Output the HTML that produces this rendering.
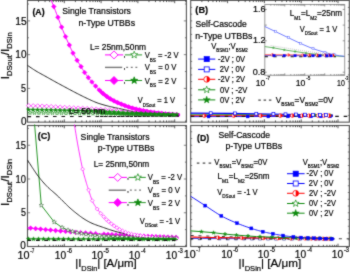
<!DOCTYPE html>
<html><head><meta charset="utf-8"><style>
html,body{margin:0;padding:0;background:#fff;}
body{width:350px;height:273px;overflow:hidden;}
svg{display:block;font-family:'Liberation Sans', Arial, sans-serif;}
text{stroke:#000;stroke-width:0.2px;}
</style></head><body>
<svg xmlns="http://www.w3.org/2000/svg" width="350" height="273" viewBox="0 0 350 273">
<defs><filter id="soft" x="0" y="0" width="350" height="273" filterUnits="userSpaceOnUse" color-interpolation-filters="sRGB"><feConvolveMatrix order="3" kernelMatrix="1 3 1 3 20 3 1 3 1" edgeMode="duplicate" preserveAlpha="true"/></filter></defs>
<g filter="url(#soft)">
<rect width="350" height="273" fill="#fff"/>
<rect x="27.5" y="0.4" width="158.9" height="121.75" fill="none" stroke="#555" stroke-width="1.1"/>
<rect x="190.7" y="0.4" width="158.6" height="121.75" fill="none" stroke="#555" stroke-width="1.1"/>
<rect x="27.5" y="125.5" width="158.9" height="121" fill="none" stroke="#555" stroke-width="1.1"/>
<rect x="190.7" y="125.5" width="158.6" height="121" fill="none" stroke="#555" stroke-width="1.1"/>
<path d="M38.58,122.15 v-1.7 M38.58,0.4 v1.7 M45.06,122.15 v-1.7 M45.06,0.4 v1.7 M49.66,122.15 v-1.7 M49.66,0.4 v1.7 M53.22,122.15 v-1.7 M53.22,0.4 v1.7 M56.14,122.15 v-1.7 M56.14,0.4 v1.7 M58.6,122.15 v-1.7 M58.6,0.4 v1.7 M60.73,122.15 v-1.7 M60.73,0.4 v1.7 M62.62,122.15 v-1.7 M62.62,0.4 v1.7 M64.3,122.15 v-2.8 M64.3,0.4 v2.8 M75.38,122.15 v-1.7 M75.38,0.4 v1.7 M81.86,122.15 v-1.7 M81.86,0.4 v1.7 M86.46,122.15 v-1.7 M86.46,0.4 v1.7 M90.02,122.15 v-1.7 M90.02,0.4 v1.7 M92.94,122.15 v-1.7 M92.94,0.4 v1.7 M95.4,122.15 v-1.7 M95.4,0.4 v1.7 M97.53,122.15 v-1.7 M97.53,0.4 v1.7 M99.42,122.15 v-1.7 M99.42,0.4 v1.7 M101.1,122.15 v-2.8 M101.1,0.4 v2.8 M112.18,122.15 v-1.7 M112.18,0.4 v1.7 M118.66,122.15 v-1.7 M118.66,0.4 v1.7 M123.26,122.15 v-1.7 M123.26,0.4 v1.7 M126.82,122.15 v-1.7 M126.82,0.4 v1.7 M129.74,122.15 v-1.7 M129.74,0.4 v1.7 M132.2,122.15 v-1.7 M132.2,0.4 v1.7 M134.33,122.15 v-1.7 M134.33,0.4 v1.7 M136.22,122.15 v-1.7 M136.22,0.4 v1.7 M137.9,122.15 v-2.8 M137.9,0.4 v2.8 M148.98,122.15 v-1.7 M148.98,0.4 v1.7 M155.46,122.15 v-1.7 M155.46,0.4 v1.7 M160.06,122.15 v-1.7 M160.06,0.4 v1.7 M163.62,122.15 v-1.7 M163.62,0.4 v1.7 M166.54,122.15 v-1.7 M166.54,0.4 v1.7 M169,122.15 v-1.7 M169,0.4 v1.7 M171.13,122.15 v-1.7 M171.13,0.4 v1.7 M173.02,122.15 v-1.7 M173.02,0.4 v1.7 M174.7,122.15 v-2.8 M174.7,0.4 v2.8 M185.78,122.15 v-1.7 M185.78,0.4 v1.7" stroke="#333" stroke-width="0.8" fill="none"/>
<path d="M201.88,122.15 v-1.7 M201.88,0.4 v1.7 M208.36,122.15 v-1.7 M208.36,0.4 v1.7 M212.96,122.15 v-1.7 M212.96,0.4 v1.7 M216.52,122.15 v-1.7 M216.52,0.4 v1.7 M219.44,122.15 v-1.7 M219.44,0.4 v1.7 M221.9,122.15 v-1.7 M221.9,0.4 v1.7 M224.03,122.15 v-1.7 M224.03,0.4 v1.7 M225.92,122.15 v-1.7 M225.92,0.4 v1.7 M227.6,122.15 v-2.8 M227.6,0.4 v2.8 M238.68,122.15 v-1.7 M238.68,0.4 v1.7 M245.16,122.15 v-1.7 M245.16,0.4 v1.7 M249.76,122.15 v-1.7 M249.76,0.4 v1.7 M253.32,122.15 v-1.7 M253.32,0.4 v1.7 M256.24,122.15 v-1.7 M256.24,0.4 v1.7 M258.7,122.15 v-1.7 M258.7,0.4 v1.7 M260.83,122.15 v-1.7 M260.83,0.4 v1.7 M262.72,122.15 v-1.7 M262.72,0.4 v1.7 M264.4,122.15 v-2.8 M264.4,0.4 v2.8 M275.48,122.15 v-1.7 M275.48,0.4 v1.7 M281.96,122.15 v-1.7 M281.96,0.4 v1.7 M286.56,122.15 v-1.7 M286.56,0.4 v1.7 M290.12,122.15 v-1.7 M290.12,0.4 v1.7 M293.04,122.15 v-1.7 M293.04,0.4 v1.7 M295.5,122.15 v-1.7 M295.5,0.4 v1.7 M297.63,122.15 v-1.7 M297.63,0.4 v1.7 M299.52,122.15 v-1.7 M299.52,0.4 v1.7 M301.2,122.15 v-2.8 M301.2,0.4 v2.8 M312.28,122.15 v-1.7 M312.28,0.4 v1.7 M318.76,122.15 v-1.7 M318.76,0.4 v1.7 M323.36,122.15 v-1.7 M323.36,0.4 v1.7 M326.92,122.15 v-1.7 M326.92,0.4 v1.7 M329.84,122.15 v-1.7 M329.84,0.4 v1.7 M332.3,122.15 v-1.7 M332.3,0.4 v1.7 M334.43,122.15 v-1.7 M334.43,0.4 v1.7 M336.32,122.15 v-1.7 M336.32,0.4 v1.7 M338,122.15 v-2.8 M338,0.4 v2.8" stroke="#333" stroke-width="0.8" fill="none"/>
<path d="M38.58,246.5 v-1.7 M38.58,125.5 v1.7 M45.06,246.5 v-1.7 M45.06,125.5 v1.7 M49.66,246.5 v-1.7 M49.66,125.5 v1.7 M53.22,246.5 v-1.7 M53.22,125.5 v1.7 M56.14,246.5 v-1.7 M56.14,125.5 v1.7 M58.6,246.5 v-1.7 M58.6,125.5 v1.7 M60.73,246.5 v-1.7 M60.73,125.5 v1.7 M62.62,246.5 v-1.7 M62.62,125.5 v1.7 M64.3,246.5 v-2.8 M64.3,125.5 v2.8 M75.38,246.5 v-1.7 M75.38,125.5 v1.7 M81.86,246.5 v-1.7 M81.86,125.5 v1.7 M86.46,246.5 v-1.7 M86.46,125.5 v1.7 M90.02,246.5 v-1.7 M90.02,125.5 v1.7 M92.94,246.5 v-1.7 M92.94,125.5 v1.7 M95.4,246.5 v-1.7 M95.4,125.5 v1.7 M97.53,246.5 v-1.7 M97.53,125.5 v1.7 M99.42,246.5 v-1.7 M99.42,125.5 v1.7 M101.1,246.5 v-2.8 M101.1,125.5 v2.8 M112.18,246.5 v-1.7 M112.18,125.5 v1.7 M118.66,246.5 v-1.7 M118.66,125.5 v1.7 M123.26,246.5 v-1.7 M123.26,125.5 v1.7 M126.82,246.5 v-1.7 M126.82,125.5 v1.7 M129.74,246.5 v-1.7 M129.74,125.5 v1.7 M132.2,246.5 v-1.7 M132.2,125.5 v1.7 M134.33,246.5 v-1.7 M134.33,125.5 v1.7 M136.22,246.5 v-1.7 M136.22,125.5 v1.7 M137.9,246.5 v-2.8 M137.9,125.5 v2.8 M148.98,246.5 v-1.7 M148.98,125.5 v1.7 M155.46,246.5 v-1.7 M155.46,125.5 v1.7 M160.06,246.5 v-1.7 M160.06,125.5 v1.7 M163.62,246.5 v-1.7 M163.62,125.5 v1.7 M166.54,246.5 v-1.7 M166.54,125.5 v1.7 M169,246.5 v-1.7 M169,125.5 v1.7 M171.13,246.5 v-1.7 M171.13,125.5 v1.7 M173.02,246.5 v-1.7 M173.02,125.5 v1.7 M174.7,246.5 v-2.8 M174.7,125.5 v2.8 M185.78,246.5 v-1.7 M185.78,125.5 v1.7" stroke="#333" stroke-width="0.8" fill="none"/>
<path d="M201.88,246.5 v-1.7 M201.88,125.5 v1.7 M208.36,246.5 v-1.7 M208.36,125.5 v1.7 M212.96,246.5 v-1.7 M212.96,125.5 v1.7 M216.52,246.5 v-1.7 M216.52,125.5 v1.7 M219.44,246.5 v-1.7 M219.44,125.5 v1.7 M221.9,246.5 v-1.7 M221.9,125.5 v1.7 M224.03,246.5 v-1.7 M224.03,125.5 v1.7 M225.92,246.5 v-1.7 M225.92,125.5 v1.7 M227.6,246.5 v-2.8 M227.6,125.5 v2.8 M238.68,246.5 v-1.7 M238.68,125.5 v1.7 M245.16,246.5 v-1.7 M245.16,125.5 v1.7 M249.76,246.5 v-1.7 M249.76,125.5 v1.7 M253.32,246.5 v-1.7 M253.32,125.5 v1.7 M256.24,246.5 v-1.7 M256.24,125.5 v1.7 M258.7,246.5 v-1.7 M258.7,125.5 v1.7 M260.83,246.5 v-1.7 M260.83,125.5 v1.7 M262.72,246.5 v-1.7 M262.72,125.5 v1.7 M264.4,246.5 v-2.8 M264.4,125.5 v2.8 M275.48,246.5 v-1.7 M275.48,125.5 v1.7 M281.96,246.5 v-1.7 M281.96,125.5 v1.7 M286.56,246.5 v-1.7 M286.56,125.5 v1.7 M290.12,246.5 v-1.7 M290.12,125.5 v1.7 M293.04,246.5 v-1.7 M293.04,125.5 v1.7 M295.5,246.5 v-1.7 M295.5,125.5 v1.7 M297.63,246.5 v-1.7 M297.63,125.5 v1.7 M299.52,246.5 v-1.7 M299.52,125.5 v1.7 M301.2,246.5 v-2.8 M301.2,125.5 v2.8 M312.28,246.5 v-1.7 M312.28,125.5 v1.7 M318.76,246.5 v-1.7 M318.76,125.5 v1.7 M323.36,246.5 v-1.7 M323.36,125.5 v1.7 M326.92,246.5 v-1.7 M326.92,125.5 v1.7 M329.84,246.5 v-1.7 M329.84,125.5 v1.7 M332.3,246.5 v-1.7 M332.3,125.5 v1.7 M334.43,246.5 v-1.7 M334.43,125.5 v1.7 M336.32,246.5 v-1.7 M336.32,125.5 v1.7 M338,246.5 v-2.8 M338,125.5 v2.8" stroke="#333" stroke-width="0.8" fill="none"/>
<path d="M27.5,88.4 h2.6 M186.4,88.4 h-2.6 M27.5,54.65 h2.6 M186.4,54.65 h-2.6 M27.5,20.9 h2.6 M186.4,20.9 h-2.6 M27.5,105.28 h1.5 M186.4,105.28 h-1.5 M27.5,71.53 h1.5 M186.4,71.53 h-1.5 M27.5,37.78 h1.5 M186.4,37.78 h-1.5 M27.5,4.03 h1.5 M186.4,4.03 h-1.5" stroke="#555" stroke-width="0.7" fill="none"/>
<path d="M190.7,115.4 h1.5 M349.3,115.4 h-1.5 M190.7,108.65 h1.5 M349.3,108.65 h-1.5 M190.7,101.9 h1.5 M349.3,101.9 h-1.5 M190.7,95.15 h1.5 M349.3,95.15 h-1.5 M190.7,88.4 h1.5 M349.3,88.4 h-1.5 M190.7,81.65 h1.5 M349.3,81.65 h-1.5 M190.7,74.9 h1.5 M349.3,74.9 h-1.5 M190.7,68.15 h1.5 M349.3,68.15 h-1.5 M190.7,61.4 h1.5 M349.3,61.4 h-1.5 M190.7,54.65 h1.5 M349.3,54.65 h-1.5 M190.7,47.9 h1.5 M349.3,47.9 h-1.5 M190.7,41.15 h1.5 M349.3,41.15 h-1.5 M190.7,34.4 h1.5 M349.3,34.4 h-1.5 M190.7,27.65 h1.5 M349.3,27.65 h-1.5 M190.7,20.9 h1.5 M349.3,20.9 h-1.5 M190.7,14.15 h1.5 M349.3,14.15 h-1.5 M190.7,7.4 h1.5 M349.3,7.4 h-1.5" stroke="#555" stroke-width="0.7" fill="none"/>
<path d="M27.5,212.75 h2.6 M186.4,212.75 h-2.6 M27.5,179 h2.6 M186.4,179 h-2.6 M27.5,145.25 h2.6 M186.4,145.25 h-2.6 M27.5,229.62 h1.5 M186.4,229.62 h-1.5 M27.5,195.88 h1.5 M186.4,195.88 h-1.5 M27.5,162.12 h1.5 M186.4,162.12 h-1.5 M27.5,128.38 h1.5 M186.4,128.38 h-1.5" stroke="#555" stroke-width="0.7" fill="none"/>
<path d="M190.7,239.75 h1.5 M349.3,239.75 h-1.5 M190.7,233 h1.5 M349.3,233 h-1.5 M190.7,226.25 h1.5 M349.3,226.25 h-1.5 M190.7,219.5 h1.5 M349.3,219.5 h-1.5 M190.7,212.75 h1.5 M349.3,212.75 h-1.5 M190.7,206 h1.5 M349.3,206 h-1.5 M190.7,199.25 h1.5 M349.3,199.25 h-1.5 M190.7,192.5 h1.5 M349.3,192.5 h-1.5 M190.7,185.75 h1.5 M349.3,185.75 h-1.5 M190.7,179 h1.5 M349.3,179 h-1.5 M190.7,172.25 h1.5 M349.3,172.25 h-1.5 M190.7,165.5 h1.5 M349.3,165.5 h-1.5 M190.7,158.75 h1.5 M349.3,158.75 h-1.5 M190.7,152 h1.5 M349.3,152 h-1.5 M190.7,145.25 h1.5 M349.3,145.25 h-1.5 M190.7,138.5 h1.5 M349.3,138.5 h-1.5 M190.7,131.75 h1.5 M349.3,131.75 h-1.5" stroke="#555" stroke-width="0.7" fill="none"/>
<path d="M50.6,-1 L50.84,-0.43 L51.15,0.29 L51.53,1.16 L51.94,2.13 L52.39,3.19 L52.86,4.3 L53.34,5.45 L53.8,6.6 L54.27,7.8 L54.77,9.08 L55.29,10.43 L55.82,11.81 L56.35,13.22 L56.88,14.62 L57.4,15.98 L57.9,17.3 L58.38,18.57 L58.85,19.82 L59.31,21.05 L59.76,22.27 L60.22,23.49 L60.67,24.69 L61.13,25.9 L61.6,27.1 L62.08,28.31 L62.56,29.52 L63.05,30.73 L63.54,31.93 L64.04,33.12 L64.53,34.3 L65.02,35.46 L65.5,36.6 L65.98,37.71 L66.46,38.81 L66.94,39.88 L67.41,40.94 L67.89,41.99 L68.36,43.03 L68.83,44.07 L69.3,45.1 L69.76,46.13 L70.22,47.15 L70.68,48.17 L71.13,49.18 L71.59,50.18 L72.05,51.17 L72.52,52.14 L73,53.1 L73.49,54.04 L74,54.98 L74.52,55.9 L75.04,56.81 L75.56,57.7 L76.08,58.58 L76.59,59.45 L77.1,60.3 L77.6,61.13 L78.1,61.95 L78.59,62.75 L79.08,63.53 L79.57,64.31 L80.05,65.07 L80.53,65.84 L81,66.6 L81.46,67.36 L81.92,68.12 L82.37,68.88 L82.81,69.62 L83.26,70.36 L83.7,71.09 L84.15,71.8 L84.6,72.5 L85.06,73.18 L85.52,73.85 L85.98,74.5 L86.45,75.14 L86.92,75.77 L87.38,76.39 L87.84,77 L88.3,77.6 L88.75,78.19 L89.2,78.76 L89.65,79.31 L90.1,79.86 L90.55,80.4 L91,80.94 L91.45,81.47 L91.9,82 L92.36,82.53 L92.82,83.05 L93.28,83.57 L93.75,84.08 L94.22,84.59 L94.68,85.1 L95.14,85.6 L95.6,86.1 L96.05,86.6 L96.5,87.1 L96.95,87.6 L97.4,88.09 L97.85,88.58 L98.3,89.06 L98.75,89.54 L99.2,90 L99.66,90.45 L100.12,90.9 L100.58,91.33 L101.04,91.76 L101.51,92.18 L101.97,92.6 L102.44,93 L102.9,93.4 L103.36,93.79 L103.83,94.17 L104.29,94.54 L104.76,94.91 L105.22,95.26 L105.68,95.61 L106.14,95.96 L106.6,96.3 L107.05,96.63 L107.48,96.95 L107.9,97.26 L108.33,97.57 L108.77,97.87 L109.22,98.18 L109.69,98.49 L110.2,98.8 L110.74,99.12 L111.31,99.45 L111.9,99.79 L112.51,100.12 L113.13,100.45 L113.76,100.78 L114.38,101.09 L115,101.4 L115.58,101.68 L116.12,101.94 L116.64,102.18 L117.17,102.43 L117.75,102.68 L118.39,102.95 L119.13,103.25 L120,103.6 L121.01,104.01 L122.15,104.47 L123.38,104.96 L124.69,105.47 L126.03,105.99 L127.38,106.5 L128.72,106.97 L130,107.4 L131.25,107.79 L132.5,108.15 L133.75,108.49 L135,108.82 L136.25,109.13 L137.5,109.43 L138.75,109.72 L140,110 L141.25,110.28 L142.5,110.54 L143.75,110.79 L145,111.03 L146.25,111.26 L147.5,111.48 L148.75,111.7 L150,111.9 L151.25,112.09 L152.5,112.27 L153.75,112.44 L155,112.61 L156.25,112.76 L157.5,112.91 L158.75,113.06 L160,113.2 L161.26,113.34 L162.54,113.48 L163.82,113.61 L165.09,113.74 L166.36,113.87 L167.61,113.99 L168.82,114.1 L170,114.2 L171.19,114.3 L172.43,114.39 L173.67,114.48 L174.88,114.56 L176,114.64 L177.01,114.7 L177.85,114.76 L178.5,114.8" fill="none" stroke="#ff00ff" stroke-width="1.0"/>
<path d="M100.12,90.9 L100.58,91.33 L101.04,91.76 L101.51,92.18 L101.97,92.6 L102.44,93 L102.9,93.4 L103.36,93.79 L103.83,94.17 L104.29,94.54 L104.76,94.91 L105.22,95.26 L105.68,95.61 L106.14,95.96 L106.6,96.3 L107.05,96.63 L107.48,96.95 L107.9,97.26 L108.33,97.57 L108.77,97.87 L109.22,98.18 L109.69,98.49 L110.2,98.8 L110.74,99.12 L111.31,99.45 L111.9,99.79 L112.51,100.12 L113.13,100.45 L113.76,100.78 L114.38,101.09 L115,101.4 L115.58,101.68 L116.12,101.94 L116.64,102.18 L117.17,102.43 L117.75,102.68 L118.39,102.95 L119.13,103.25 L120,103.6 L121.01,104.01 L122.15,104.47 L123.38,104.96 L124.69,105.47 L126.03,105.99 L127.38,106.5 L128.72,106.97 L130,107.4 L131.25,107.79 L132.5,108.15 L133.75,108.49 L135,108.82 L136.25,109.13 L137.5,109.43 L138.75,109.72 L140,110 L141.25,110.28 L142.5,110.54 L143.75,110.79 L145,111.03 L146.25,111.26 L147.5,111.48 L148.75,111.7 L150,111.9 L151.25,112.09 L152.5,112.27 L153.75,112.44 L155,112.61 L156.25,112.76 L157.5,112.91 L158.75,113.06 L160,113.2 L161.26,113.34 L162.54,113.48 L163.82,113.61 L165.09,113.74 L166.36,113.87 L167.61,113.99 L168.82,114.1 L170,114.2 L171.19,114.3 L172.43,114.39 L173.67,114.48 L174.88,114.56 L176,114.64 L177.01,114.7 L177.85,114.76 L178.5,114.8" fill="none" stroke="#ff00ff" stroke-width="3.4" stroke-linecap="round"/>
<path d="M53.8,4.25 L56.15,6.6 L53.8,8.95 L51.45,6.6 Z" fill="#ff00ff" stroke="#ff00ff" stroke-width="0.5"/>
<path d="M57.9,14.95 L60.25,17.3 L57.9,19.65 L55.55,17.3 Z" fill="#ff00ff" stroke="#ff00ff" stroke-width="0.5"/>
<path d="M61.6,24.75 L63.95,27.1 L61.6,29.45 L59.25,27.1 Z" fill="#ff00ff" stroke="#ff00ff" stroke-width="0.5"/>
<path d="M65.5,34.25 L67.85,36.6 L65.5,38.95 L63.15,36.6 Z" fill="#ff00ff" stroke="#ff00ff" stroke-width="0.5"/>
<path d="M69.3,42.75 L71.65,45.1 L69.3,47.45 L66.95,45.1 Z" fill="#ff00ff" stroke="#ff00ff" stroke-width="0.5"/>
<path d="M73,50.75 L75.35,53.1 L73,55.45 L70.65,53.1 Z" fill="#ff00ff" stroke="#ff00ff" stroke-width="0.5"/>
<path d="M77.1,57.95 L79.45,60.3 L77.1,62.65 L74.75,60.3 Z" fill="#ff00ff" stroke="#ff00ff" stroke-width="0.5"/>
<path d="M81,64.25 L83.35,66.6 L81,68.95 L78.65,66.6 Z" fill="#ff00ff" stroke="#ff00ff" stroke-width="0.5"/>
<path d="M84.6,70.15 L86.95,72.5 L84.6,74.85 L82.25,72.5 Z" fill="#ff00ff" stroke="#ff00ff" stroke-width="0.5"/>
<path d="M88.3,75.25 L90.65,77.6 L88.3,79.95 L85.95,77.6 Z" fill="#ff00ff" stroke="#ff00ff" stroke-width="0.5"/>
<path d="M91.9,79.65 L94.25,82 L91.9,84.35 L89.55,82 Z" fill="#ff00ff" stroke="#ff00ff" stroke-width="0.5"/>
<path d="M95.6,83.75 L97.95,86.1 L95.6,88.45 L93.25,86.1 Z" fill="#ff00ff" stroke="#ff00ff" stroke-width="0.5"/>
<path d="M99.2,87.65 L101.55,90 L99.2,92.35 L96.85,90 Z" fill="#ff00ff" stroke="#ff00ff" stroke-width="0.5"/>
<path d="M102.9,91.05 L105.25,93.4 L102.9,95.75 L100.55,93.4 Z" fill="#ff00ff" stroke="#ff00ff" stroke-width="0.5"/>
<path d="M106.6,93.95 L108.95,96.3 L106.6,98.65 L104.25,96.3 Z" fill="#ff00ff" stroke="#ff00ff" stroke-width="0.5"/>
<path d="M110.2,96.45 L112.55,98.8 L110.2,101.15 L107.85,98.8 Z" fill="#ff00ff" stroke="#ff00ff" stroke-width="0.5"/>
<path d="M113.9,98.5 L116.25,100.85 L113.9,103.2 L111.55,100.85 Z" fill="#ff00ff" stroke="#ff00ff" stroke-width="0.5"/>
<path d="M117.58,100.25 L119.93,102.6 L117.58,104.95 L115.23,102.6 Z" fill="#ff00ff" stroke="#ff00ff" stroke-width="0.5"/>
<path d="M121.26,101.76 L123.61,104.11 L121.26,106.46 L118.91,104.11 Z" fill="#ff00ff" stroke="#ff00ff" stroke-width="0.5"/>
<path d="M124.94,103.22 L127.29,105.57 L124.94,107.92 L122.59,105.57 Z" fill="#ff00ff" stroke="#ff00ff" stroke-width="0.5"/>
<path d="M128.62,104.59 L130.97,106.94 L128.62,109.29 L126.27,106.94 Z" fill="#ff00ff" stroke="#ff00ff" stroke-width="0.5"/>
<path d="M132.3,105.74 L134.65,108.09 L132.3,110.44 L129.95,108.09 Z" fill="#ff00ff" stroke="#ff00ff" stroke-width="0.5"/>
<path d="M135.98,106.71 L138.33,109.06 L135.98,111.41 L133.63,109.06 Z" fill="#ff00ff" stroke="#ff00ff" stroke-width="0.5"/>
<path d="M139.66,107.57 L142.01,109.92 L139.66,112.27 L137.31,109.92 Z" fill="#ff00ff" stroke="#ff00ff" stroke-width="0.5"/>
<path d="M143.34,108.36 L145.69,110.71 L143.34,113.06 L140.99,110.71 Z" fill="#ff00ff" stroke="#ff00ff" stroke-width="0.5"/>
<path d="M147.02,109.05 L149.37,111.4 L147.02,113.75 L144.67,111.4 Z" fill="#ff00ff" stroke="#ff00ff" stroke-width="0.5"/>
<path d="M150.7,109.66 L153.05,112.01 L150.7,114.36 L148.35,112.01 Z" fill="#ff00ff" stroke="#ff00ff" stroke-width="0.5"/>
<path d="M154.38,110.18 L156.73,112.53 L154.38,114.88 L152.03,112.53 Z" fill="#ff00ff" stroke="#ff00ff" stroke-width="0.5"/>
<path d="M158.06,110.63 L160.41,112.98 L158.06,115.33 L155.71,112.98 Z" fill="#ff00ff" stroke="#ff00ff" stroke-width="0.5"/>
<path d="M161.74,111.04 L164.09,113.39 L161.74,115.74 L159.39,113.39 Z" fill="#ff00ff" stroke="#ff00ff" stroke-width="0.5"/>
<path d="M165.42,111.43 L167.77,113.78 L165.42,116.13 L163.07,113.78 Z" fill="#ff00ff" stroke="#ff00ff" stroke-width="0.5"/>
<path d="M169.1,111.77 L171.45,114.12 L169.1,116.47 L166.75,114.12 Z" fill="#ff00ff" stroke="#ff00ff" stroke-width="0.5"/>
<path d="M172.78,112.07 L175.13,114.42 L172.78,116.77 L170.43,114.42 Z" fill="#ff00ff" stroke="#ff00ff" stroke-width="0.5"/>
<path d="M176.46,112.32 L178.81,114.67 L176.46,117.02 L174.11,114.67 Z" fill="#ff00ff" stroke="#ff00ff" stroke-width="0.5"/>
<path d="M27.5,65.4 L28.15,65.83 L28.99,66.41 L30,67.09 L31.12,67.85 L32.33,68.65 L33.57,69.47 L34.81,70.26 L36,71 L37.18,71.7 L38.39,72.4 L39.64,73.1 L40.91,73.8 L42.18,74.5 L43.46,75.2 L44.74,75.9 L46,76.6 L47.25,77.3 L48.5,78 L49.75,78.71 L51,79.41 L52.25,80.11 L53.5,80.81 L54.75,81.51 L56,82.2 L57.25,82.89 L58.5,83.57 L59.75,84.24 L61,84.92 L62.25,85.59 L63.5,86.26 L64.75,86.93 L66,87.6 L67.25,88.27 L68.5,88.94 L69.75,89.61 L71,90.27 L72.25,90.94 L73.5,91.6 L74.75,92.25 L76,92.9 L77.25,93.54 L78.5,94.18 L79.75,94.82 L81,95.45 L82.25,96.07 L83.5,96.69 L84.75,97.3 L86,97.9 L87.26,98.5 L88.55,99.1 L89.84,99.71 L91.12,100.3 L92.4,100.87 L93.64,101.42 L94.85,101.93 L96,102.4 L97.09,102.82 L98.12,103.19 L99.11,103.53 L100.07,103.84 L101.02,104.14 L101.98,104.42 L102.97,104.71 L104,105 L105.05,105.29 L106.1,105.57 L107.16,105.85 L108.24,106.11 L109.34,106.38 L110.48,106.65 L111.66,106.92 L112.9,107.2 L114.21,107.49 L115.59,107.79 L117.02,108.09 L118.49,108.39 L119.97,108.69 L121.44,109 L122.89,109.3 L124.3,109.6 L125.64,109.9 L126.92,110.21 L128.17,110.52 L129.42,110.82 L130.7,111.13 L132.04,111.43 L133.46,111.72 L135,112 L136.58,112.27 L138.14,112.54 L139.74,112.81 L141.42,113.06 L143.23,113.31 L145.24,113.55 L147.47,113.78 L150,114 L153.07,114.21 L156.74,114.42 L160.78,114.63 L164.94,114.83 L168.98,115 L172.66,115.16 L175.75,115.3 L178,115.4" fill="none" stroke="#111" stroke-width="0.9"/>
<path d="M27.5,105.6 L28.83,105.64 L30.59,105.69 L32.67,105.75 L35,105.83 L37.49,105.9 L40.04,105.99 L42.57,106.09 L45,106.2 L47.38,106.32 L49.82,106.46 L52.32,106.61 L54.84,106.78 L57.39,106.94 L59.94,107.1 L62.48,107.26 L65,107.4 L67.5,107.53 L70,107.66 L72.5,107.78 L75,107.9 L77.5,108.02 L80,108.14 L82.5,108.27 L85,108.4 L87.47,108.54 L89.88,108.68 L92.28,108.82 L94.69,108.96 L97.13,109.11 L99.65,109.27 L102.26,109.43 L105,109.6 L107.92,109.78 L111.02,109.98 L114.23,110.18 L117.5,110.39 L120.77,110.6 L123.98,110.8 L127.08,111.01 L130,111.2 L132.68,111.38 L135.16,111.56 L137.51,111.74 L139.81,111.91 L142.13,112.08 L144.55,112.25 L147.15,112.43 L150,112.6 L153.31,112.78 L157.09,112.98 L161.14,113.19 L165.25,113.39 L169.2,113.58 L172.78,113.75 L175.79,113.89 L178,114" fill="none" stroke="#ff00ff" stroke-width="0.7"/>
<path d="M28.7,103.49 L30.85,105.64 L28.7,107.79 L26.55,105.64 Z" fill="#fff" stroke="#ff00ff" stroke-width="0.6"/>
<path d="M33.2,103.62 L35.35,105.77 L33.2,107.92 L31.05,105.77 Z" fill="#fff" stroke="#ff00ff" stroke-width="0.6"/>
<path d="M37.7,103.76 L39.85,105.91 L37.7,108.06 L35.55,105.91 Z" fill="#fff" stroke="#ff00ff" stroke-width="0.6"/>
<path d="M42.2,103.93 L44.35,106.08 L42.2,108.23 L40.05,106.08 Z" fill="#fff" stroke="#ff00ff" stroke-width="0.6"/>
<path d="M46.7,104.14 L48.85,106.29 L46.7,108.44 L44.55,106.29 Z" fill="#fff" stroke="#ff00ff" stroke-width="0.6"/>
<path d="M51.2,104.4 L53.35,106.55 L51.2,108.7 L49.05,106.55 Z" fill="#fff" stroke="#ff00ff" stroke-width="0.6"/>
<path d="M55.7,104.68 L57.85,106.83 L55.7,108.98 L53.55,106.83 Z" fill="#fff" stroke="#ff00ff" stroke-width="0.6"/>
<path d="M60.2,104.97 L62.35,107.12 L60.2,109.27 L58.05,107.12 Z" fill="#fff" stroke="#ff00ff" stroke-width="0.6"/>
<path d="M64.7,105.23 L66.85,107.38 L64.7,109.53 L62.55,107.38 Z" fill="#fff" stroke="#ff00ff" stroke-width="0.6"/>
<path d="M69.2,105.47 L71.35,107.62 L69.2,109.77 L67.05,107.62 Z" fill="#fff" stroke="#ff00ff" stroke-width="0.6"/>
<path d="M73.7,105.69 L75.85,107.84 L73.7,109.99 L71.55,107.84 Z" fill="#fff" stroke="#ff00ff" stroke-width="0.6"/>
<path d="M78.2,105.9 L80.35,108.05 L78.2,110.2 L76.05,108.05 Z" fill="#fff" stroke="#ff00ff" stroke-width="0.6"/>
<path d="M82.7,106.13 L84.85,108.28 L82.7,110.43 L80.55,108.28 Z" fill="#fff" stroke="#ff00ff" stroke-width="0.6"/>
<path d="M87.2,106.37 L89.35,108.52 L87.2,110.67 L85.05,108.52 Z" fill="#fff" stroke="#ff00ff" stroke-width="0.6"/>
<path d="M91.7,106.63 L93.85,108.78 L91.7,110.93 L89.55,108.78 Z" fill="#fff" stroke="#ff00ff" stroke-width="0.6"/>
<path d="M96.2,106.9 L98.35,109.05 L96.2,111.2 L94.05,109.05 Z" fill="#fff" stroke="#ff00ff" stroke-width="0.6"/>
<path d="M100.7,107.18 L102.85,109.33 L100.7,111.48 L98.55,109.33 Z" fill="#fff" stroke="#ff00ff" stroke-width="0.6"/>
<path d="M105.2,107.46 L107.35,109.61 L105.2,111.76 L103.05,109.61 Z" fill="#fff" stroke="#ff00ff" stroke-width="0.6"/>
<path d="M109.7,107.74 L111.85,109.89 L109.7,112.04 L107.55,109.89 Z" fill="#fff" stroke="#ff00ff" stroke-width="0.6"/>
<path d="M114.2,108.03 L116.35,110.18 L114.2,112.33 L112.05,110.18 Z" fill="#fff" stroke="#ff00ff" stroke-width="0.6"/>
<path d="M118.7,108.31 L120.85,110.46 L118.7,112.61 L116.55,110.46 Z" fill="#fff" stroke="#ff00ff" stroke-width="0.6"/>
<path d="M27.5,116.6 L35.77,116.59 L47.17,116.57 L60.78,116.54 L75.69,116.52 L90.98,116.49 L105.73,116.46 L119.05,116.43 L130,116.4 L139.02,116.37 L147.16,116.33 L154.45,116.28 L160.91,116.24 L166.56,116.19 L171.45,116.16 L175.59,116.12 L179,116.1" fill="none" stroke="#111" stroke-width="1.1" stroke-dasharray="3.6,4.9"/>
<path d="M27.5,112.9 L33.25,112.96 L41.05,113.04 L50.37,113.14 L60.62,113.24 L71.27,113.36 L81.76,113.47 L91.52,113.59 L100,113.7 L107.48,113.81 L114.62,113.93 L121.41,114.05 L127.84,114.18 L133.92,114.29 L139.64,114.41 L145,114.51 L150,114.6 L154.66,114.68 L159,114.74 L163,114.8 L166.62,114.86 L169.86,114.9 L172.69,114.94 L175.07,114.97 L177,115" fill="none" stroke="#108a10" stroke-width="0.7" stroke-dasharray="0.8,0.8"/>
<polygon points="30,110.93 30.49,112.25 31.9,112.31 30.8,113.19 31.18,114.54 30,113.77 28.82,114.54 29.2,113.19 28.1,112.31 29.51,112.25" fill="#fff" stroke="#108a10" stroke-width="0.55"/>
<polygon points="34.5,110.97 34.99,112.29 36.4,112.36 35.3,113.23 35.68,114.59 34.5,113.81 33.32,114.59 33.7,113.23 32.6,112.36 34.01,112.29" fill="#fff" stroke="#108a10" stroke-width="0.55"/>
<polygon points="39,111.02 39.49,112.34 40.9,112.4 39.8,113.28 40.18,114.64 39,113.86 37.82,114.64 38.2,113.28 37.1,112.4 38.51,112.34" fill="#fff" stroke="#108a10" stroke-width="0.55"/>
<polygon points="43.5,111.07 43.99,112.39 45.4,112.45 44.3,113.33 44.68,114.68 43.5,113.91 42.32,114.68 42.7,113.33 41.6,112.45 43.01,112.39" fill="#fff" stroke="#108a10" stroke-width="0.55"/>
<polygon points="48,111.11 48.49,112.43 49.9,112.49 48.8,113.37 49.18,114.73 48,113.95 46.82,114.73 47.2,113.37 46.1,112.49 47.51,112.43" fill="#fff" stroke="#108a10" stroke-width="0.55"/>
<polygon points="52.5,111.16 52.99,112.48 54.4,112.54 53.3,113.42 53.68,114.78 52.5,114 51.32,114.78 51.7,113.42 50.6,112.54 52.01,112.48" fill="#fff" stroke="#108a10" stroke-width="0.55"/>
<polygon points="57,111.21 57.49,112.53 58.9,112.59 57.8,113.47 58.18,114.82 57,114.05 55.82,114.82 56.2,113.47 55.1,112.59 56.51,112.53" fill="#fff" stroke="#108a10" stroke-width="0.55"/>
<polygon points="61.5,111.25 61.99,112.57 63.4,112.64 62.3,113.51 62.68,114.87 61.5,114.09 60.32,114.87 60.7,113.51 59.6,112.64 61.01,112.57" fill="#fff" stroke="#108a10" stroke-width="0.55"/>
<polygon points="66,111.3 66.49,112.62 67.9,112.68 66.8,113.56 67.18,114.92 66,114.14 64.82,114.92 65.2,113.56 64.1,112.68 65.51,112.62" fill="#fff" stroke="#108a10" stroke-width="0.55"/>
<polygon points="70.5,111.35 70.99,112.67 72.4,112.73 71.3,113.61 71.68,114.97 70.5,114.19 69.32,114.97 69.7,113.61 68.6,112.73 70.01,112.67" fill="#fff" stroke="#108a10" stroke-width="0.55"/>
<polygon points="75,111.4 75.49,112.72 76.9,112.78 75.8,113.66 76.18,115.02 75,114.24 73.82,115.02 74.2,113.66 73.1,112.78 74.51,112.72" fill="#fff" stroke="#108a10" stroke-width="0.55"/>
<polygon points="79.5,111.45 79.99,112.77 81.4,112.83 80.3,113.71 80.68,115.07 79.5,114.29 78.32,115.07 78.7,113.71 77.6,112.83 79.01,112.77" fill="#fff" stroke="#108a10" stroke-width="0.55"/>
<polygon points="84,111.5 84.49,112.82 85.9,112.88 84.8,113.76 85.18,115.12 84,114.34 82.82,115.12 83.2,113.76 82.1,112.88 83.51,112.82" fill="#fff" stroke="#108a10" stroke-width="0.55"/>
<polygon points="88.5,111.55 88.99,112.87 90.4,112.94 89.3,113.81 89.68,115.17 88.5,114.39 87.32,115.17 87.7,113.81 86.6,112.94 88.01,112.87" fill="#fff" stroke="#108a10" stroke-width="0.55"/>
<polygon points="93,111.61 93.49,112.93 94.9,112.99 93.8,113.87 94.18,115.23 93,114.45 91.82,115.23 92.2,113.87 91.1,112.99 92.51,112.93" fill="#fff" stroke="#108a10" stroke-width="0.55"/>
<polygon points="97.5,111.67 97.99,112.99 99.4,113.05 98.3,113.93 98.68,115.29 97.5,114.51 96.32,115.29 96.7,113.93 95.6,113.05 97.01,112.99" fill="#fff" stroke="#108a10" stroke-width="0.55"/>
<polygon points="102,111.73 102.49,113.05 103.9,113.11 102.8,113.99 103.18,115.35 102,114.57 100.82,115.35 101.2,113.99 100.1,113.11 101.51,113.05" fill="#fff" stroke="#108a10" stroke-width="0.55"/>
<polygon points="106.5,111.8 106.99,113.12 108.4,113.18 107.3,114.06 107.68,115.41 106.5,114.64 105.32,115.41 105.7,114.06 104.6,113.18 106.01,113.12" fill="#fff" stroke="#108a10" stroke-width="0.55"/>
<polygon points="111,111.87 111.49,113.19 112.9,113.25 111.8,114.13 112.18,115.49 111,114.71 109.82,115.49 110.2,114.13 109.1,113.25 110.51,113.19" fill="#fff" stroke="#108a10" stroke-width="0.55"/>
<polygon points="115.5,111.95 115.99,113.27 117.4,113.33 116.3,114.21 116.68,115.56 115.5,114.79 114.32,115.56 114.7,114.21 113.6,113.33 115.01,113.27" fill="#fff" stroke="#108a10" stroke-width="0.55"/>
<polygon points="120,112.03 120.49,113.35 121.9,113.41 120.8,114.29 121.18,115.64 120,114.87 118.82,115.64 119.2,114.29 118.1,113.41 119.51,113.35" fill="#fff" stroke="#108a10" stroke-width="0.55"/>
<polygon points="124.5,112.11 124.99,113.43 126.4,113.49 125.3,114.37 125.68,115.73 124.5,114.95 123.32,115.73 123.7,114.37 122.6,113.49 124.01,113.43" fill="#fff" stroke="#108a10" stroke-width="0.55"/>
<polygon points="129,112.2 129.49,113.52 130.9,113.58 129.8,114.46 130.18,115.82 129,115.04 127.82,115.82 128.2,114.46 127.1,113.58 128.51,113.52" fill="#fff" stroke="#108a10" stroke-width="0.55"/>
<polygon points="133.5,112.29 133.99,113.61 135.4,113.67 134.3,114.55 134.68,115.9 133.5,115.13 132.32,115.9 132.7,114.55 131.6,113.67 133.01,113.61" fill="#fff" stroke="#108a10" stroke-width="0.55"/>
<polygon points="138,112.38 138.49,113.7 139.9,113.76 138.8,114.63 139.18,115.99 138,115.22 136.82,115.99 137.2,114.63 136.1,113.76 137.51,113.7" fill="#fff" stroke="#108a10" stroke-width="0.55"/>
<polygon points="142.5,112.46 142.99,113.78 144.4,113.84 143.3,114.72 143.68,116.08 142.5,115.3 141.32,116.08 141.7,114.72 140.6,113.84 142.01,113.78" fill="#fff" stroke="#108a10" stroke-width="0.55"/>
<polygon points="147,112.55 147.49,113.87 148.9,113.93 147.8,114.81 148.18,116.16 147,115.39 145.82,116.16 146.2,114.81 145.1,113.93 146.51,113.87" fill="#fff" stroke="#108a10" stroke-width="0.55"/>
<polygon points="151.5,112.62 151.99,113.95 153.4,114.01 152.3,114.88 152.68,116.24 151.5,115.46 150.32,116.24 150.7,114.88 149.6,114.01 151.01,113.95" fill="#fff" stroke="#108a10" stroke-width="0.55"/>
<polygon points="156,112.7 156.49,114.02 157.9,114.08 156.8,114.96 157.18,116.32 156,115.54 154.82,116.32 155.2,114.96 154.1,114.08 155.51,114.02" fill="#fff" stroke="#108a10" stroke-width="0.55"/>
<polygon points="160.5,112.77 160.99,114.09 162.4,114.15 161.3,115.03 161.68,116.38 160.5,115.61 159.32,116.38 159.7,115.03 158.6,114.15 160.01,114.09" fill="#fff" stroke="#108a10" stroke-width="0.55"/>
<polygon points="165,112.83 165.49,114.15 166.9,114.21 165.8,115.09 166.18,116.45 165,115.67 163.82,116.45 164.2,115.09 163.1,114.21 164.51,114.15" fill="#fff" stroke="#108a10" stroke-width="0.55"/>
<polygon points="169.5,112.9 169.99,114.22 171.4,114.28 170.3,115.16 170.68,116.51 169.5,115.74 168.32,116.51 168.7,115.16 167.6,114.28 169.01,114.22" fill="#fff" stroke="#108a10" stroke-width="0.55"/>
<polygon points="174,112.96 174.49,114.28 175.9,114.34 174.8,115.22 175.18,116.58 174,115.8 172.82,116.58 173.2,115.22 172.1,114.34 173.51,114.28" fill="#fff" stroke="#108a10" stroke-width="0.55"/>
<path d="M27.5,109.6 L30.41,109.65 L34.3,109.72 L38.93,109.8 L44.06,109.89 L49.47,109.99 L54.92,110.09 L60.18,110.2 L65,110.3 L69.53,110.4 L74.04,110.49 L78.53,110.59 L82.97,110.69 L87.35,110.8 L91.66,110.91 L95.88,111.05 L100,111.2 L104.06,111.38 L108.09,111.59 L112.06,111.82 L115.94,112.06 L119.7,112.3 L123.32,112.53 L126.76,112.73 L130,112.9 L132.93,113.03 L135.54,113.14 L137.92,113.23 L140.19,113.3 L142.43,113.37 L144.74,113.43 L147.23,113.51 L150,113.6 L153.22,113.71 L156.89,113.83 L160.8,113.96 L164.75,114.09 L168.54,114.22 L171.98,114.33 L174.87,114.43 L177,114.5" fill="none" stroke="#108a10" stroke-width="0.9"/>
<polygon points="28.5,107.52 29.02,108.9 30.5,108.97 29.34,109.89 29.73,111.32 28.5,110.5 27.27,111.32 27.66,109.89 26.5,108.97 27.98,108.9" fill="#108a10" stroke="#108a10" stroke-width="0.45"/>
<polygon points="33,107.6 33.52,108.98 35,109.05 33.84,109.97 34.23,111.4 33,110.58 31.77,111.4 32.16,109.97 31,109.05 32.48,108.98" fill="#108a10" stroke="#108a10" stroke-width="0.45"/>
<polygon points="37.5,107.68 38.02,109.06 39.5,109.13 38.34,110.05 38.73,111.48 37.5,110.66 36.27,111.48 36.66,110.05 35.5,109.13 36.98,109.06" fill="#108a10" stroke="#108a10" stroke-width="0.45"/>
<polygon points="42,107.76 42.52,109.14 44,109.21 42.84,110.13 43.23,111.56 42,110.74 40.77,111.56 41.16,110.13 40,109.21 41.48,109.14" fill="#108a10" stroke="#108a10" stroke-width="0.45"/>
<polygon points="46.5,107.84 47.02,109.22 48.5,109.29 47.34,110.21 47.73,111.64 46.5,110.82 45.27,111.64 45.66,110.21 44.5,109.29 45.98,109.22" fill="#108a10" stroke="#108a10" stroke-width="0.45"/>
<polygon points="51,107.92 51.52,109.31 53,109.37 51.84,110.29 52.23,111.72 51,110.9 49.77,111.72 50.16,110.29 49,109.37 50.48,109.31" fill="#108a10" stroke="#108a10" stroke-width="0.45"/>
<polygon points="55.5,108.01 56.02,109.39 57.5,109.46 56.34,110.38 56.73,111.8 55.5,110.99 54.27,111.8 54.66,110.38 53.5,109.46 54.98,109.39" fill="#108a10" stroke="#108a10" stroke-width="0.45"/>
<polygon points="60,108.09 60.52,109.48 62,109.55 60.84,110.47 61.23,111.89 60,111.08 58.77,111.89 59.16,110.47 58,109.55 59.48,109.48" fill="#108a10" stroke="#108a10" stroke-width="0.45"/>
<polygon points="64.5,108.19 65.02,109.58 66.5,109.64 65.34,110.56 65.73,111.99 64.5,111.17 63.27,111.99 63.66,110.56 62.5,109.64 63.98,109.58" fill="#108a10" stroke="#108a10" stroke-width="0.45"/>
<polygon points="69,108.29 69.52,109.67 71,109.74 69.84,110.66 70.23,112.09 69,111.27 67.77,112.09 68.16,110.66 67,109.74 68.48,109.67" fill="#108a10" stroke="#108a10" stroke-width="0.45"/>
<polygon points="73.5,108.38 74.02,109.77 75.5,109.83 74.34,110.75 74.73,112.18 73.5,111.36 72.27,112.18 72.66,110.75 71.5,109.83 72.98,109.77" fill="#108a10" stroke="#108a10" stroke-width="0.45"/>
<polygon points="78,108.48 78.52,109.86 80,109.93 78.84,110.85 79.23,112.28 78,111.46 76.77,112.28 77.16,110.85 76,109.93 77.48,109.86" fill="#108a10" stroke="#108a10" stroke-width="0.45"/>
<polygon points="82.5,108.58 83.02,109.96 84.5,110.03 83.34,110.95 83.73,112.38 82.5,111.56 81.27,112.38 81.66,110.95 80.5,110.03 81.98,109.96" fill="#108a10" stroke="#108a10" stroke-width="0.45"/>
<polygon points="87,108.69 87.52,110.07 89,110.14 87.84,111.06 88.23,112.49 87,111.67 85.77,112.49 86.16,111.06 85,110.14 86.48,110.07" fill="#108a10" stroke="#108a10" stroke-width="0.45"/>
<polygon points="91.5,108.81 92.02,110.2 93.5,110.26 92.34,111.18 92.73,112.61 91.5,111.79 90.27,112.61 90.66,111.18 89.5,110.26 90.98,110.2" fill="#108a10" stroke="#108a10" stroke-width="0.45"/>
<polygon points="96,108.95 96.52,110.34 98,110.4 96.84,111.32 97.23,112.75 96,111.93 94.77,112.75 95.16,111.32 94,110.4 95.48,110.34" fill="#108a10" stroke="#108a10" stroke-width="0.45"/>
<polygon points="100.5,109.12 101.02,110.51 102.5,110.57 101.34,111.49 101.73,112.92 100.5,112.1 99.27,112.92 99.66,111.49 98.5,110.57 99.98,110.51" fill="#108a10" stroke="#108a10" stroke-width="0.45"/>
<polygon points="105,109.33 105.52,110.72 107,110.78 105.84,111.7 106.23,113.13 105,112.31 103.77,113.13 104.16,111.7 103,110.78 104.48,110.72" fill="#108a10" stroke="#108a10" stroke-width="0.45"/>
<polygon points="109.5,109.57 110.02,110.96 111.5,111.03 110.34,111.95 110.73,113.37 109.5,112.56 108.27,113.37 108.66,111.95 107.5,111.03 108.98,110.96" fill="#108a10" stroke="#108a10" stroke-width="0.45"/>
<polygon points="114,109.84 114.52,111.23 116,111.29 114.84,112.22 115.23,113.64 114,112.82 112.77,113.64 113.16,112.22 112,111.29 113.48,111.23" fill="#108a10" stroke="#108a10" stroke-width="0.45"/>
<polygon points="118.5,110.12 119.02,111.51 120.5,111.58 119.34,112.5 119.73,113.92 118.5,113.11 117.27,113.92 117.66,112.5 116.5,111.58 117.98,111.51" fill="#108a10" stroke="#108a10" stroke-width="0.45"/>
<polygon points="123,110.41 123.52,111.79 125,111.86 123.84,112.78 124.23,114.21 123,113.39 121.77,114.21 122.16,112.78 121,111.86 122.48,111.79" fill="#108a10" stroke="#108a10" stroke-width="0.45"/>
<polygon points="127.5,110.67 128.02,112.06 129.5,112.12 128.34,113.04 128.73,114.47 127.5,113.65 126.27,114.47 126.66,113.04 125.5,112.12 126.98,112.06" fill="#108a10" stroke="#108a10" stroke-width="0.45"/>
<polygon points="132,110.89 132.52,112.28 134,112.34 132.84,113.26 133.23,114.69 132,113.87 130.77,114.69 131.16,113.26 130,112.34 131.48,112.28" fill="#108a10" stroke="#108a10" stroke-width="0.45"/>
<polygon points="136.5,111.08 137.02,112.46 138.5,112.53 137.34,113.45 137.73,114.87 136.5,114.06 135.27,114.87 135.66,113.45 134.5,112.53 135.98,112.46" fill="#108a10" stroke="#108a10" stroke-width="0.45"/>
<polygon points="141,111.22 141.52,112.61 143,112.68 141.84,113.6 142.23,115.02 141,114.21 139.77,115.02 140.16,113.6 139,112.68 140.48,112.61" fill="#108a10" stroke="#108a10" stroke-width="0.45"/>
<polygon points="145.5,111.36 146.02,112.74 147.5,112.81 146.34,113.73 146.73,115.16 145.5,114.34 144.27,115.16 144.66,113.73 143.5,112.81 144.98,112.74" fill="#108a10" stroke="#108a10" stroke-width="0.45"/>
<polygon points="150,111.5 150.52,112.89 152,112.95 150.84,113.87 151.23,115.3 150,114.48 148.77,115.3 149.16,113.87 148,112.95 149.48,112.89" fill="#108a10" stroke="#108a10" stroke-width="0.45"/>
<polygon points="154.5,111.65 155.02,113.04 156.5,113.1 155.34,114.02 155.73,115.45 154.5,114.63 153.27,115.45 153.66,114.02 152.5,113.1 153.98,113.04" fill="#108a10" stroke="#108a10" stroke-width="0.45"/>
<polygon points="159,111.8 159.52,113.19 161,113.25 159.84,114.17 160.23,115.6 159,114.78 157.77,115.6 158.16,114.17 157,113.25 158.48,113.19" fill="#108a10" stroke="#108a10" stroke-width="0.45"/>
<polygon points="163.5,111.95 164.02,113.34 165.5,113.4 164.34,114.32 164.73,115.75 163.5,114.93 162.27,115.75 162.66,114.32 161.5,113.4 162.98,113.34" fill="#108a10" stroke="#108a10" stroke-width="0.45"/>
<polygon points="168,112.1 168.52,113.49 170,113.55 168.84,114.47 169.23,115.9 168,115.08 166.77,115.9 167.16,114.47 166,113.55 167.48,113.49" fill="#108a10" stroke="#108a10" stroke-width="0.45"/>
<polygon points="172.5,112.25 173.02,113.64 174.5,113.7 173.34,114.62 173.73,116.05 172.5,115.23 171.27,116.05 171.66,114.62 170.5,113.7 171.98,113.64" fill="#108a10" stroke="#108a10" stroke-width="0.45"/>
<polygon points="177,112.4 177.52,113.79 179,113.85 177.84,114.77 178.23,116.2 177,115.38 175.77,116.2 176.16,114.77 175,113.85 176.48,113.79" fill="#108a10" stroke="#108a10" stroke-width="0.45"/>
<path d="M100,113.2 L130,114.2 L150,114.6 L176.5,115.1" fill="none" stroke="#108a10" stroke-width="2.6" stroke-opacity="0.85"/>
<path d="M100,116.5 L102.18,116.49 L104.95,116.49 L108.22,116.48 L111.94,116.47 L116.04,116.46 L120.46,116.44 L125.14,116.42 L130,116.4 L135.55,116.37 L142.06,116.33 L149.14,116.29 L156.38,116.24 L163.38,116.2 L169.75,116.16 L175.09,116.12 L179,116.1" fill="none" stroke="#111" stroke-width="1.1" stroke-dasharray="3.6,4.9"/>
<path d="M27.5,227.8 L29.21,227.97 L31.44,228.19 L34.09,228.46 L37.06,228.75 L40.24,229.06 L43.53,229.38 L46.82,229.7 L50,230 L53.19,230.3 L56.53,230.61 L59.97,230.92 L63.47,231.24 L66.97,231.56 L70.43,231.86 L73.79,232.14 L77,232.4 L80.02,232.63 L82.87,232.83 L85.61,233.02 L88.31,233.19 L91.04,233.36 L93.85,233.53 L96.82,233.71 L100,233.9 L103.42,234.11 L107.01,234.32 L110.74,234.54 L114.56,234.77 L118.44,234.99 L122.34,235.21 L126.2,235.41 L130,235.6 L133.83,235.78 L137.77,235.95 L141.76,236.11 L145.72,236.27 L149.59,236.42 L153.31,236.55 L156.8,236.68 L160,236.8 L162.99,236.91 L165.87,237.01 L168.59,237.1 L171.12,237.18 L173.42,237.25 L175.45,237.31 L177.15,237.36 L178.5,237.4" fill="none" stroke="#ff00ff" stroke-width="1.0"/>
<path d="M30.6,225.71 L33,228.11 L30.6,230.51 L28.2,228.11 Z" fill="#ff00ff" stroke="#ff00ff" stroke-width="0.4"/>
<path d="M35.6,226.2 L38,228.6 L35.6,231 L33.2,228.6 Z" fill="#ff00ff" stroke="#ff00ff" stroke-width="0.4"/>
<path d="M40.6,226.7 L43,229.1 L40.6,231.5 L38.2,229.1 Z" fill="#ff00ff" stroke="#ff00ff" stroke-width="0.4"/>
<path d="M45.6,227.18 L48,229.58 L45.6,231.98 L43.2,229.58 Z" fill="#ff00ff" stroke="#ff00ff" stroke-width="0.4"/>
<path d="M50.6,227.66 L53,230.06 L50.6,232.46 L48.2,230.06 Z" fill="#ff00ff" stroke="#ff00ff" stroke-width="0.4"/>
<path d="M55.6,228.12 L58,230.52 L55.6,232.92 L53.2,230.52 Z" fill="#ff00ff" stroke="#ff00ff" stroke-width="0.4"/>
<path d="M60.6,228.58 L63,230.98 L60.6,233.38 L58.2,230.98 Z" fill="#ff00ff" stroke="#ff00ff" stroke-width="0.4"/>
<path d="M65.6,229.03 L68,231.43 L65.6,233.83 L63.2,231.43 Z" fill="#ff00ff" stroke="#ff00ff" stroke-width="0.4"/>
<path d="M70.6,229.47 L73,231.87 L70.6,234.27 L68.2,231.87 Z" fill="#ff00ff" stroke="#ff00ff" stroke-width="0.4"/>
<path d="M75.6,229.89 L78,232.29 L75.6,234.69 L73.2,232.29 Z" fill="#ff00ff" stroke="#ff00ff" stroke-width="0.4"/>
<path d="M80.6,230.27 L83,232.67 L80.6,235.07 L78.2,232.67 Z" fill="#ff00ff" stroke="#ff00ff" stroke-width="0.4"/>
<path d="M85.6,230.62 L88,233.02 L85.6,235.42 L83.2,233.02 Z" fill="#ff00ff" stroke="#ff00ff" stroke-width="0.4"/>
<path d="M90.6,230.94 L93,233.34 L90.6,235.74 L88.2,233.34 Z" fill="#ff00ff" stroke="#ff00ff" stroke-width="0.4"/>
<path d="M95.6,231.24 L98,233.64 L95.6,236.04 L93.2,233.64 Z" fill="#ff00ff" stroke="#ff00ff" stroke-width="0.4"/>
<path d="M104,231.74 L106.4,234.14 L104,236.54 L101.6,234.14 Z" fill="#ff00ff" stroke="#ff00ff" stroke-width="0.4"/>
<path d="M108,231.98 L110.4,234.38 L108,236.78 L105.6,234.38 Z" fill="#ff00ff" stroke="#ff00ff" stroke-width="0.4"/>
<path d="M112,232.22 L114.4,234.62 L112,237.02 L109.6,234.62 Z" fill="#ff00ff" stroke="#ff00ff" stroke-width="0.4"/>
<path d="M116,232.45 L118.4,234.85 L116,237.25 L113.6,234.85 Z" fill="#ff00ff" stroke="#ff00ff" stroke-width="0.4"/>
<path d="M120,232.68 L122.4,235.08 L120,237.48 L117.6,235.08 Z" fill="#ff00ff" stroke="#ff00ff" stroke-width="0.4"/>
<path d="M124,232.89 L126.4,235.29 L124,237.69 L121.6,235.29 Z" fill="#ff00ff" stroke="#ff00ff" stroke-width="0.4"/>
<path d="M128,233.1 L130.4,235.5 L128,237.9 L125.6,235.5 Z" fill="#ff00ff" stroke="#ff00ff" stroke-width="0.4"/>
<path d="M132,233.29 L134.4,235.69 L132,238.09 L129.6,235.69 Z" fill="#ff00ff" stroke="#ff00ff" stroke-width="0.4"/>
<path d="M136,233.47 L138.4,235.87 L136,238.27 L133.6,235.87 Z" fill="#ff00ff" stroke="#ff00ff" stroke-width="0.4"/>
<path d="M140,233.64 L142.4,236.04 L140,238.44 L137.6,236.04 Z" fill="#ff00ff" stroke="#ff00ff" stroke-width="0.4"/>
<path d="M144,233.8 L146.4,236.2 L144,238.6 L141.6,236.2 Z" fill="#ff00ff" stroke="#ff00ff" stroke-width="0.4"/>
<path d="M148,233.96 L150.4,236.36 L148,238.76 L145.6,236.36 Z" fill="#ff00ff" stroke="#ff00ff" stroke-width="0.4"/>
<path d="M152,234.11 L154.4,236.51 L152,238.91 L149.6,236.51 Z" fill="#ff00ff" stroke="#ff00ff" stroke-width="0.4"/>
<path d="M156,234.25 L158.4,236.65 L156,239.05 L153.6,236.65 Z" fill="#ff00ff" stroke="#ff00ff" stroke-width="0.4"/>
<path d="M160,234.4 L162.4,236.8 L160,239.2 L157.6,236.8 Z" fill="#ff00ff" stroke="#ff00ff" stroke-width="0.4"/>
<path d="M164,234.54 L166.4,236.94 L164,239.34 L161.6,236.94 Z" fill="#ff00ff" stroke="#ff00ff" stroke-width="0.4"/>
<path d="M168,234.68 L170.4,237.08 L168,239.48 L165.6,237.08 Z" fill="#ff00ff" stroke="#ff00ff" stroke-width="0.4"/>
<path d="M172,234.8 L174.4,237.2 L172,239.6 L169.6,237.2 Z" fill="#ff00ff" stroke="#ff00ff" stroke-width="0.4"/>
<path d="M176,234.92 L178.4,237.32 L176,239.72 L173.6,237.32 Z" fill="#ff00ff" stroke="#ff00ff" stroke-width="0.4"/>
<path d="M34.6,124.5 L41.3,205.3 L54.2,222 L62.1,227.5 L68,230.1 L75,232.3 L85,234.2 L100,235.8 L130,237.2 L178,238" fill="none" stroke="#108a10" stroke-width="0.9"/>
<polygon points="41.3,203 41.87,204.52 43.49,204.59 42.22,205.6 42.65,207.16 41.3,206.27 39.95,207.16 40.38,205.6 39.11,204.59 40.73,204.52" fill="#fff" stroke="#3a6a3a" stroke-width="0.55"/>
<polygon points="54.2,219.7 54.77,221.22 56.39,221.29 55.12,222.3 55.55,223.86 54.2,222.97 52.85,223.86 53.28,222.3 52.01,221.29 53.63,221.22" fill="#fff" stroke="#3a6a3a" stroke-width="0.55"/>
<polygon points="62.1,225.2 62.67,226.72 64.29,226.79 63.02,227.8 63.45,229.36 62.1,228.47 60.75,229.36 61.18,227.8 59.91,226.79 61.53,226.72" fill="#fff" stroke="#3a6a3a" stroke-width="0.55"/>
<polygon points="68,227.8 68.57,229.32 70.19,229.39 68.92,230.4 69.35,231.96 68,231.07 66.65,231.96 67.08,230.4 65.81,229.39 67.43,229.32" fill="#fff" stroke="#3a6a3a" stroke-width="0.55"/>
<polygon points="72.5,229.21 73.07,230.73 74.69,230.8 73.42,231.81 73.85,233.38 72.5,232.48 71.15,233.38 71.58,231.81 70.31,230.8 71.93,230.73" fill="#fff" stroke="#3a6a3a" stroke-width="0.55"/>
<polygon points="77,230.38 77.57,231.9 79.19,231.97 77.92,232.98 78.35,234.54 77,233.65 75.65,234.54 76.08,232.98 74.81,231.97 76.43,231.9" fill="#fff" stroke="#3a6a3a" stroke-width="0.55"/>
<polygon points="81.5,231.23 82.07,232.75 83.69,232.82 82.42,233.83 82.85,235.4 81.5,234.5 80.15,235.4 80.58,233.83 79.31,232.82 80.93,232.75" fill="#fff" stroke="#3a6a3a" stroke-width="0.55"/>
<polygon points="86,232.01 86.57,233.53 88.19,233.6 86.92,234.61 87.35,236.17 86,235.27 84.65,236.17 85.08,234.61 83.81,233.6 85.43,233.53" fill="#fff" stroke="#3a6a3a" stroke-width="0.55"/>
<polygon points="90.5,232.49 91.07,234.01 92.69,234.08 91.42,235.09 91.85,236.65 90.5,235.75 89.15,236.65 89.58,235.09 88.31,234.08 89.93,234.01" fill="#fff" stroke="#3a6a3a" stroke-width="0.55"/>
<polygon points="95,232.97 95.57,234.49 97.19,234.56 95.92,235.57 96.35,237.13 95,236.23 93.65,237.13 94.08,235.57 92.81,234.56 94.43,234.49" fill="#fff" stroke="#3a6a3a" stroke-width="0.55"/>
<polygon points="99.5,233.45 100.07,234.97 101.69,235.04 100.42,236.05 100.85,237.61 99.5,236.71 98.15,237.61 98.58,236.05 97.31,235.04 98.93,234.97" fill="#fff" stroke="#3a6a3a" stroke-width="0.55"/>
<polygon points="104,233.69 104.57,235.21 106.19,235.28 104.92,236.29 105.35,237.85 104,236.95 102.65,237.85 103.08,236.29 101.81,235.28 103.43,235.21" fill="#fff" stroke="#3a6a3a" stroke-width="0.55"/>
<polygon points="108.5,233.9 109.07,235.42 110.69,235.49 109.42,236.5 109.85,238.06 108.5,237.16 107.15,238.06 107.58,236.5 106.31,235.49 107.93,235.42" fill="#fff" stroke="#3a6a3a" stroke-width="0.55"/>
<polygon points="113,234.11 113.57,235.63 115.19,235.7 113.92,236.71 114.35,238.27 113,237.37 111.65,238.27 112.08,236.71 110.81,235.7 112.43,235.63" fill="#fff" stroke="#3a6a3a" stroke-width="0.55"/>
<polygon points="117.5,234.32 118.07,235.84 119.69,235.91 118.42,236.92 118.85,238.48 117.5,237.58 116.15,238.48 116.58,236.92 115.31,235.91 116.93,235.84" fill="#fff" stroke="#3a6a3a" stroke-width="0.55"/>
<polygon points="122,234.53 122.57,236.05 124.19,236.12 122.92,237.13 123.35,238.69 122,237.79 120.65,238.69 121.08,237.13 119.81,236.12 121.43,236.05" fill="#fff" stroke="#3a6a3a" stroke-width="0.55"/>
<polygon points="126.5,234.74 127.07,236.26 128.69,236.33 127.42,237.34 127.85,238.9 126.5,238 125.15,238.9 125.58,237.34 124.31,236.33 125.93,236.26" fill="#fff" stroke="#3a6a3a" stroke-width="0.55"/>
<polygon points="131,234.92 131.57,236.44 133.19,236.51 131.92,237.52 132.35,239.08 131,238.18 129.65,239.08 130.08,237.52 128.81,236.51 130.43,236.44" fill="#fff" stroke="#3a6a3a" stroke-width="0.55"/>
<polygon points="135.5,234.99 136.07,236.51 137.69,236.58 136.42,237.59 136.85,239.15 135.5,238.26 134.15,239.15 134.58,237.59 133.31,236.58 134.93,236.51" fill="#fff" stroke="#3a6a3a" stroke-width="0.55"/>
<polygon points="140,235.07 140.57,236.59 142.19,236.66 140.92,237.67 141.35,239.23 140,238.33 138.65,239.23 139.08,237.67 137.81,236.66 139.43,236.59" fill="#fff" stroke="#3a6a3a" stroke-width="0.55"/>
<polygon points="144.5,235.14 145.07,236.66 146.69,236.73 145.42,237.74 145.85,239.3 144.5,238.41 143.15,239.3 143.58,237.74 142.31,236.73 143.93,236.66" fill="#fff" stroke="#3a6a3a" stroke-width="0.55"/>
<polygon points="149,235.22 149.57,236.74 151.19,236.81 149.92,237.82 150.35,239.38 149,238.48 147.65,239.38 148.08,237.82 146.81,236.81 148.43,236.74" fill="#fff" stroke="#3a6a3a" stroke-width="0.55"/>
<polygon points="153.5,235.29 154.07,236.81 155.69,236.88 154.42,237.89 154.85,239.45 153.5,238.56 152.15,239.45 152.58,237.89 151.31,236.88 152.93,236.81" fill="#fff" stroke="#3a6a3a" stroke-width="0.55"/>
<polygon points="158,235.37 158.57,236.89 160.19,236.96 158.92,237.97 159.35,239.53 158,238.63 156.65,239.53 157.08,237.97 155.81,236.96 157.43,236.89" fill="#fff" stroke="#3a6a3a" stroke-width="0.55"/>
<polygon points="162.5,235.44 163.07,236.96 164.69,237.03 163.42,238.04 163.85,239.6 162.5,238.71 161.15,239.6 161.58,238.04 160.31,237.03 161.93,236.96" fill="#fff" stroke="#3a6a3a" stroke-width="0.55"/>
<polygon points="167,235.52 167.57,237.04 169.19,237.11 167.92,238.12 168.35,239.68 167,238.78 165.65,239.68 166.08,238.12 164.81,237.11 166.43,237.04" fill="#fff" stroke="#3a6a3a" stroke-width="0.55"/>
<polygon points="171.5,235.59 172.07,237.11 173.69,237.18 172.42,238.19 172.85,239.75 171.5,238.86 170.15,239.75 170.58,238.19 169.31,237.18 170.93,237.11" fill="#fff" stroke="#3a6a3a" stroke-width="0.55"/>
<polygon points="176,235.67 176.57,237.19 178.19,237.26 176.92,238.27 177.35,239.83 176,238.93 174.65,239.83 175.08,238.27 173.81,237.26 175.43,237.19" fill="#fff" stroke="#3a6a3a" stroke-width="0.55"/>
<path d="M27.5,160 L27.92,160.66 L28.48,161.55 L29.14,162.6 L29.88,163.76 L30.66,165 L31.46,166.25 L32.25,167.47 L33,168.6 L33.71,169.67 L34.42,170.74 L35.13,171.8 L35.84,172.86 L36.58,173.93 L37.35,175.01 L38.15,176.1 L39,177.2 L39.9,178.33 L40.84,179.49 L41.81,180.66 L42.81,181.84 L43.84,183.01 L44.88,184.17 L45.94,185.3 L47,186.4 L48.09,187.47 L49.23,188.51 L50.39,189.54 L51.56,190.55 L52.73,191.54 L53.87,192.51 L54.96,193.47 L56,194.4 L56.97,195.31 L57.89,196.18 L58.77,197.04 L59.62,197.88 L60.46,198.7 L61.3,199.53 L62.14,200.36 L63,201.2 L63.88,202.06 L64.75,202.92 L65.62,203.79 L66.5,204.66 L67.38,205.52 L68.25,206.37 L69.12,207.2 L70,208 L70.88,208.78 L71.75,209.54 L72.62,210.28 L73.5,211.01 L74.38,211.72 L75.25,212.42 L76.12,213.12 L77,213.8 L77.87,214.48 L78.73,215.14 L79.58,215.79 L80.44,216.44 L81.3,217.07 L82.18,217.69 L83.08,218.3 L84,218.9 L84.94,219.49 L85.88,220.06 L86.83,220.63 L87.79,221.18 L88.79,221.72 L89.81,222.26 L90.88,222.78 L92,223.3 L93.18,223.81 L94.43,224.3 L95.72,224.79 L97.04,225.27 L98.38,225.74 L99.71,226.2 L101.03,226.65 L102.3,227.1 L103.55,227.54 L104.81,227.99 L106.06,228.42 L107.29,228.85 L108.51,229.27 L109.71,229.66 L110.87,230.04 L112,230.4 L113.07,230.73 L114.07,231.03 L115.04,231.31 L115.98,231.57 L116.93,231.82 L117.9,232.08 L118.92,232.33 L120,232.6 L121.12,232.88 L122.24,233.15 L123.38,233.43 L124.56,233.71 L125.8,233.99 L127.1,234.26 L128.5,234.53 L130,234.8 L131.51,235.06 L132.98,235.32 L134.47,235.58 L136.06,235.84 L137.84,236.09 L139.87,236.33 L142.23,236.57 L145,236.8 L148.49,237.03 L152.76,237.27 L157.51,237.5 L162.44,237.73 L167.25,237.93 L171.65,238.12 L175.33,238.28 L178,238.4" fill="none" stroke="#111" stroke-width="0.9"/>
<path d="M74.4,124.5 L74.67,126.15 L75.02,128.33 L75.44,130.92 L75.91,133.81 L76.42,136.88 L76.95,140.01 L77.48,143.09 L78,146 L78.54,148.89 L79.11,151.92 L79.71,155.04 L80.32,158.15 L80.93,161.19 L81.52,164.07 L82.09,166.74 L82.6,169.1 L83.07,171.14 L83.51,172.93 L83.92,174.51 L84.31,175.93 L84.69,177.24 L85.06,178.49 L85.43,179.73 L85.8,181 L86.16,182.25 L86.51,183.42 L86.84,184.52 L87.17,185.58 L87.51,186.64 L87.85,187.71 L88.21,188.82 L88.6,190 L89.02,191.29 L89.46,192.66 L89.93,194.1 L90.4,195.54 L90.87,196.95 L91.34,198.29 L91.78,199.52 L92.2,200.6 L92.59,201.52 L92.97,202.33 L93.33,203.03 L93.69,203.66 L94.03,204.23 L94.36,204.77 L94.68,205.28 L95,205.8 L95.29,206.29 L95.56,206.71 L95.81,207.09 L96.05,207.45 L96.3,207.8 L96.57,208.16 L96.86,208.56 L97.2,209 L97.59,209.5 L98.02,210.04 L98.48,210.61 L98.96,211.19 L99.44,211.78 L99.92,212.35 L100.37,212.89 L100.8,213.4 L101.2,213.87 L101.58,214.31 L101.95,214.74 L102.31,215.15 L102.67,215.55 L103.01,215.94 L103.36,216.32 L103.7,216.7 L104.04,217.08 L104.38,217.45 L104.71,217.82 L105.03,218.17 L105.35,218.52 L105.67,218.86 L105.99,219.19 L106.3,219.5 L106.61,219.8 L106.91,220.07 L107.2,220.33 L107.49,220.59 L107.79,220.84 L108.08,221.08 L108.39,221.34 L108.7,221.6 L109.02,221.87 L109.35,222.15 L109.69,222.42 L110.03,222.7 L110.37,222.98 L110.71,223.25 L111.06,223.53 L111.4,223.8 L111.75,224.07 L112.1,224.34 L112.45,224.61 L112.8,224.88 L113.15,225.14 L113.5,225.4 L113.85,225.65 L114.2,225.9 L114.54,226.14 L114.88,226.37 L115.22,226.6 L115.56,226.82 L115.89,227.04 L116.23,227.26 L116.56,227.48 L116.9,227.7 L117.22,227.92 L117.51,228.13 L117.79,228.34 L118.08,228.56 L118.39,228.77 L118.74,229 L119.13,229.24 L119.6,229.5 L120.15,229.78 L120.77,230.09 L121.44,230.42 L122.16,230.75 L122.89,231.08 L123.61,231.41 L124.33,231.72 L125,232 L125.58,232.25 L126.07,232.48 L126.51,232.69 L126.96,232.89 L127.48,233.1 L128.13,233.31 L128.95,233.54 L130,233.8 L131.32,234.09 L132.87,234.42 L134.59,234.77 L136.44,235.12 L138.35,235.48 L140.29,235.82 L142.19,236.13 L144,236.4 L145.71,236.64 L147.36,236.85 L148.99,237.04 L150.62,237.21 L152.31,237.37 L154.08,237.52 L155.96,237.66 L158,237.8 L160.35,237.93 L163.05,238.06 L165.94,238.18 L168.88,238.29 L171.7,238.38 L174.27,238.47 L176.42,238.54 L178,238.6" fill="none" stroke="#ff00ff" stroke-width="0.8"/>
<path d="M82.6,167.2 L84.5,169.1 L82.6,171 L80.7,169.1 Z" fill="#fff" stroke="#ff00ff" stroke-width="0.6"/>
<path d="M88.6,188.1 L90.5,190 L88.6,191.9 L86.7,190 Z" fill="#fff" stroke="#ff00ff" stroke-width="0.6"/>
<path d="M92.2,198.7 L94.1,200.6 L92.2,202.5 L90.3,200.6 Z" fill="#fff" stroke="#ff00ff" stroke-width="0.6"/>
<path d="M97.2,207.1 L99.1,209 L97.2,210.9 L95.3,209 Z" fill="#fff" stroke="#ff00ff" stroke-width="0.6"/>
<path d="M100.8,211.5 L102.7,213.4 L100.8,215.3 L98.9,213.4 Z" fill="#fff" stroke="#ff00ff" stroke-width="0.6"/>
<path d="M103.7,214.8 L105.6,216.7 L103.7,218.6 L101.8,216.7 Z" fill="#fff" stroke="#ff00ff" stroke-width="0.6"/>
<path d="M106.3,217.6 L108.2,219.5 L106.3,221.4 L104.4,219.5 Z" fill="#fff" stroke="#ff00ff" stroke-width="0.6"/>
<path d="M108.7,219.7 L110.6,221.6 L108.7,223.5 L106.8,221.6 Z" fill="#fff" stroke="#ff00ff" stroke-width="0.6"/>
<path d="M111.4,221.9 L113.3,223.8 L111.4,225.7 L109.5,223.8 Z" fill="#fff" stroke="#ff00ff" stroke-width="0.6"/>
<path d="M114.2,224 L116.1,225.9 L114.2,227.8 L112.3,225.9 Z" fill="#fff" stroke="#ff00ff" stroke-width="0.6"/>
<path d="M116.9,225.8 L118.8,227.7 L116.9,229.6 L115,227.7 Z" fill="#fff" stroke="#ff00ff" stroke-width="0.6"/>
<path d="M119.6,227.6 L121.5,229.5 L119.6,231.4 L117.7,229.5 Z" fill="#fff" stroke="#ff00ff" stroke-width="0.6"/>
<path d="M122.6,229.05 L124.5,230.95 L122.6,232.85 L120.7,230.95 Z" fill="#fff" stroke="#ff00ff" stroke-width="0.6"/>
<path d="M125.6,230.36 L127.5,232.26 L125.6,234.16 L123.7,232.26 Z" fill="#fff" stroke="#ff00ff" stroke-width="0.6"/>
<path d="M128.6,231.54 L130.5,233.44 L128.6,235.34 L126.7,233.44 Z" fill="#fff" stroke="#ff00ff" stroke-width="0.6"/>
<path d="M131.6,232.25 L133.5,234.15 L131.6,236.05 L129.7,234.15 Z" fill="#fff" stroke="#ff00ff" stroke-width="0.6"/>
<path d="M134.6,232.87 L136.5,234.77 L134.6,236.67 L132.7,234.77 Z" fill="#fff" stroke="#ff00ff" stroke-width="0.6"/>
<path d="M137.6,233.44 L139.5,235.34 L137.6,237.24 L135.7,235.34 Z" fill="#fff" stroke="#ff00ff" stroke-width="0.6"/>
<path d="M140.6,233.97 L142.5,235.87 L140.6,237.77 L138.7,235.87 Z" fill="#fff" stroke="#ff00ff" stroke-width="0.6"/>
<path d="M143.6,234.44 L145.5,236.34 L143.6,238.24 L141.7,236.34 Z" fill="#fff" stroke="#ff00ff" stroke-width="0.6"/>
<path d="M146.6,234.85 L148.5,236.75 L146.6,238.65 L144.7,236.75 Z" fill="#fff" stroke="#ff00ff" stroke-width="0.6"/>
<path d="M149.6,235.2 L151.5,237.1 L149.6,239 L147.7,237.1 Z" fill="#fff" stroke="#ff00ff" stroke-width="0.6"/>
<path d="M152.6,235.5 L154.5,237.4 L152.6,239.3 L150.7,237.4 Z" fill="#fff" stroke="#ff00ff" stroke-width="0.6"/>
<path d="M155.6,235.73 L157.5,237.63 L155.6,239.53 L153.7,237.63 Z" fill="#fff" stroke="#ff00ff" stroke-width="0.6"/>
<path d="M158.6,235.93 L160.5,237.83 L158.6,239.73 L156.7,237.83 Z" fill="#fff" stroke="#ff00ff" stroke-width="0.6"/>
<path d="M161.6,236.09 L163.5,237.99 L161.6,239.89 L159.7,237.99 Z" fill="#fff" stroke="#ff00ff" stroke-width="0.6"/>
<path d="M164.6,236.22 L166.5,238.12 L164.6,240.02 L162.7,238.12 Z" fill="#fff" stroke="#ff00ff" stroke-width="0.6"/>
<path d="M167.6,236.34 L169.5,238.24 L167.6,240.14 L165.7,238.24 Z" fill="#fff" stroke="#ff00ff" stroke-width="0.6"/>
<path d="M170.6,236.45 L172.5,238.35 L170.6,240.25 L168.7,238.35 Z" fill="#fff" stroke="#ff00ff" stroke-width="0.6"/>
<path d="M173.6,236.55 L175.5,238.45 L173.6,240.35 L171.7,238.45 Z" fill="#fff" stroke="#ff00ff" stroke-width="0.6"/>
<path d="M176.6,236.65 L178.5,238.55 L176.6,240.45 L174.7,238.55 Z" fill="#fff" stroke="#ff00ff" stroke-width="0.6"/>
<path d="M27.5,239 L33.06,239.01 L40.4,239.01 L49.14,239.02 L58.88,239.03 L69.22,239.04 L79.79,239.06 L90.18,239.08 L100,239.1 L110.02,239.13 L120.94,239.17 L132.27,239.21 L143.53,239.26 L154.22,239.3 L163.86,239.34 L171.94,239.38 L178,239.4" fill="none" stroke="#108a10" stroke-width="0.9"/>
<polygon points="28.5,236.8 29.04,238.25 30.59,238.32 29.38,239.29 29.79,240.78 28.5,239.93 27.21,240.78 27.62,239.29 26.41,238.32 27.96,238.25" fill="#108a10" stroke="#108a10" stroke-width="0.45"/>
<polygon points="33.5,236.81 34.04,238.26 35.59,238.33 34.38,239.29 34.79,240.79 33.5,239.93 32.21,240.79 32.62,239.29 31.41,238.33 32.96,238.26" fill="#108a10" stroke="#108a10" stroke-width="0.45"/>
<polygon points="38.5,236.81 39.04,238.26 40.59,238.33 39.38,239.3 39.79,240.79 38.5,239.94 37.21,240.79 37.62,239.3 36.41,238.33 37.96,238.26" fill="#108a10" stroke="#108a10" stroke-width="0.45"/>
<polygon points="43.5,236.82 44.04,238.27 45.59,238.34 44.38,239.3 44.79,240.8 43.5,239.94 42.21,240.8 42.62,239.3 41.41,238.34 42.96,238.27" fill="#108a10" stroke="#108a10" stroke-width="0.45"/>
<polygon points="48.5,236.82 49.04,238.27 50.59,238.34 49.38,239.31 49.79,240.8 48.5,239.94 47.21,240.8 47.62,239.31 46.41,238.34 47.96,238.27" fill="#108a10" stroke="#108a10" stroke-width="0.45"/>
<polygon points="53.5,236.83 54.04,238.28 55.59,238.35 54.38,239.31 54.79,240.81 53.5,239.95 52.21,240.81 52.62,239.31 51.41,238.35 52.96,238.28" fill="#108a10" stroke="#108a10" stroke-width="0.45"/>
<polygon points="58.5,236.83 59.04,238.28 60.59,238.35 59.38,239.32 59.79,240.81 58.5,239.95 57.21,240.81 57.62,239.32 56.41,238.35 57.96,238.28" fill="#108a10" stroke="#108a10" stroke-width="0.45"/>
<polygon points="63.5,236.84 64.04,238.29 65.59,238.36 64.38,239.32 64.79,240.82 63.5,239.96 62.21,240.82 62.62,239.32 61.41,238.36 62.96,238.29" fill="#108a10" stroke="#108a10" stroke-width="0.45"/>
<polygon points="68.5,236.84 69.04,238.3 70.59,238.36 69.38,239.33 69.79,240.82 68.5,239.97 67.21,240.82 67.62,239.33 66.41,238.36 67.96,238.3" fill="#108a10" stroke="#108a10" stroke-width="0.45"/>
<polygon points="73.5,236.85 74.04,238.3 75.59,238.37 74.38,239.34 74.79,240.83 73.5,239.97 72.21,240.83 72.62,239.34 71.41,238.37 72.96,238.3" fill="#108a10" stroke="#108a10" stroke-width="0.45"/>
<polygon points="78.5,236.86 79.04,238.31 80.59,238.38 79.38,239.34 79.79,240.84 78.5,239.98 77.21,240.84 77.62,239.34 76.41,238.38 77.96,238.31" fill="#108a10" stroke="#108a10" stroke-width="0.45"/>
<polygon points="83.5,236.87 84.04,238.32 85.59,238.39 84.38,239.35 84.79,240.85 83.5,239.99 82.21,240.85 82.62,239.35 81.41,238.39 82.96,238.32" fill="#108a10" stroke="#108a10" stroke-width="0.45"/>
<polygon points="88.5,236.87 89.04,238.33 90.59,238.39 89.38,239.36 89.79,240.85 88.5,240 87.21,240.85 87.62,239.36 86.41,238.39 87.96,238.33" fill="#108a10" stroke="#108a10" stroke-width="0.45"/>
<polygon points="93.5,236.88 94.04,238.34 95.59,238.41 94.38,239.37 94.79,240.86 93.5,240.01 92.21,240.86 92.62,239.37 91.41,238.41 92.96,238.34" fill="#108a10" stroke="#108a10" stroke-width="0.45"/>
<polygon points="98.5,236.9 99.04,238.35 100.59,238.42 99.38,239.38 99.79,240.88 98.5,240.02 97.21,240.88 97.62,239.38 96.41,238.42 97.96,238.35" fill="#108a10" stroke="#108a10" stroke-width="0.45"/>
<polygon points="103.5,236.91 104.04,238.36 105.59,238.43 104.38,239.4 104.79,240.89 103.5,240.03 102.21,240.89 102.62,239.4 101.41,238.43 102.96,238.36" fill="#108a10" stroke="#108a10" stroke-width="0.45"/>
<polygon points="108.5,236.93 109.04,238.38 110.59,238.45 109.38,239.41 109.79,240.91 108.5,240.05 107.21,240.91 107.62,239.41 106.41,238.45 107.96,238.38" fill="#108a10" stroke="#108a10" stroke-width="0.45"/>
<polygon points="113.5,236.94 114.04,238.39 115.59,238.46 114.38,239.43 114.79,240.92 113.5,240.07 112.21,240.92 112.62,239.43 111.41,238.46 112.96,238.39" fill="#108a10" stroke="#108a10" stroke-width="0.45"/>
<polygon points="118.5,236.96 119.04,238.41 120.59,238.48 119.38,239.45 119.79,240.94 118.5,240.08 117.21,240.94 117.62,239.45 116.41,238.48 117.96,238.41" fill="#108a10" stroke="#108a10" stroke-width="0.45"/>
<polygon points="123.5,236.98 124.04,238.43 125.59,238.5 124.38,239.46 124.79,240.96 123.5,240.1 122.21,240.96 122.62,239.46 121.41,238.5 122.96,238.43" fill="#108a10" stroke="#108a10" stroke-width="0.45"/>
<polygon points="128.5,237 129.04,238.45 130.59,238.52 129.38,239.48 129.79,240.98 128.5,240.12 127.21,240.98 127.62,239.48 126.41,238.52 127.96,238.45" fill="#108a10" stroke="#108a10" stroke-width="0.45"/>
<polygon points="133.5,237.02 134.04,238.47 135.59,238.54 134.38,239.5 134.79,241 133.5,240.14 132.21,241 132.62,239.5 131.41,238.54 132.96,238.47" fill="#108a10" stroke="#108a10" stroke-width="0.45"/>
<polygon points="138.5,237.04 139.04,238.49 140.59,238.56 139.38,239.52 139.79,241.02 138.5,240.16 137.21,241.02 137.62,239.52 136.41,238.56 137.96,238.49" fill="#108a10" stroke="#108a10" stroke-width="0.45"/>
<polygon points="143.5,237.06 144.04,238.51 145.59,238.58 144.38,239.54 144.79,241.04 143.5,240.18 142.21,241.04 142.62,239.54 141.41,238.58 142.96,238.51" fill="#108a10" stroke="#108a10" stroke-width="0.45"/>
<polygon points="148.5,237.08 149.04,238.53 150.59,238.6 149.38,239.56 149.79,241.06 148.5,240.2 147.21,241.06 147.62,239.56 146.41,238.6 147.96,238.53" fill="#108a10" stroke="#108a10" stroke-width="0.45"/>
<polygon points="153.5,237.1 154.04,238.55 155.59,238.62 154.38,239.58 154.79,241.08 153.5,240.22 152.21,241.08 152.62,239.58 151.41,238.62 152.96,238.55" fill="#108a10" stroke="#108a10" stroke-width="0.45"/>
<polygon points="158.5,237.12 159.04,238.57 160.59,238.64 159.38,239.6 159.79,241.1 158.5,240.24 157.21,241.1 157.62,239.6 156.41,238.64 157.96,238.57" fill="#108a10" stroke="#108a10" stroke-width="0.45"/>
<polygon points="163.5,237.14 164.04,238.59 165.59,238.66 164.38,239.63 164.79,241.12 163.5,240.26 162.21,241.12 162.62,239.63 161.41,238.66 162.96,238.59" fill="#108a10" stroke="#108a10" stroke-width="0.45"/>
<polygon points="168.5,237.16 169.04,238.61 170.59,238.68 169.38,239.65 169.79,241.14 168.5,240.28 167.21,241.14 167.62,239.65 166.41,238.68 167.96,238.61" fill="#108a10" stroke="#108a10" stroke-width="0.45"/>
<polygon points="173.5,237.18 174.04,238.63 175.59,238.7 174.38,239.67 174.79,241.16 173.5,240.31 172.21,241.16 172.62,239.67 171.41,238.7 172.96,238.63" fill="#108a10" stroke="#108a10" stroke-width="0.45"/>
<path d="M110,238.6 L176.5,239.0" fill="none" stroke="#108a10" stroke-width="2.4" stroke-opacity="0.9"/>
<path d="M27.5,240.4 L179,240.4" fill="none" stroke="#111" stroke-width="1.1" stroke-dasharray="3.6,4.9"/>
<path d="M190.7,116.6 L333,116.4" fill="none" stroke="#0000ff" stroke-width="0.9"/>
<path d="M190.7,114.3 L260,114.6 L333,115.4" fill="none" stroke="#108a10" stroke-width="0.8"/>
<path d="M190.7,115.7 L333,115.6" fill="none" stroke="#ff0000" stroke-width="0.9"/>
<path d="M190.7,113.1 L230,113.3 L270,114 L333,115.2" fill="none" stroke="#0000ff" stroke-width="1.2"/>
<path d="M190.7,116.4 L349.3,116.4" fill="none" stroke="#111" stroke-width="1.2" stroke-dasharray="3.6,4.9"/>
<rect x="207.2" y="115.17" width="2.8" height="2.8" fill="#0000ff" stroke="#0000ff" stroke-width="0.4"/>
<rect x="246.3" y="115.12" width="2.8" height="2.8" fill="#0000ff" stroke="#0000ff" stroke-width="0.4"/>
<rect x="266.9" y="115.09" width="2.8" height="2.8" fill="#0000ff" stroke="#0000ff" stroke-width="0.4"/>
<rect x="286.6" y="115.06" width="2.8" height="2.8" fill="#0000ff" stroke="#0000ff" stroke-width="0.4"/>
<rect x="298.6" y="115.05" width="2.8" height="2.8" fill="#0000ff" stroke="#0000ff" stroke-width="0.4"/>
<rect x="309.6" y="115.03" width="2.8" height="2.8" fill="#0000ff" stroke="#0000ff" stroke-width="0.4"/>
<rect x="319.6" y="115.02" width="2.8" height="2.8" fill="#0000ff" stroke="#0000ff" stroke-width="0.4"/>
<rect x="328.6" y="115" width="2.8" height="2.8" fill="#0000ff" stroke="#0000ff" stroke-width="0.4"/>
<polygon points="296.6,113.1 297.07,114.36 298.41,114.41 297.36,115.25 297.72,116.54 296.6,115.8 295.48,116.54 295.84,115.25 294.79,114.41 296.13,114.36" fill="#108a10" stroke="#108a10" stroke-width="0.4"/>
<polygon points="315,113.3 315.47,114.56 316.81,114.62 315.76,115.45 316.12,116.74 315,116 313.88,116.74 314.24,115.45 313.19,114.62 314.53,114.56" fill="#108a10" stroke="#108a10" stroke-width="0.4"/>
<polygon points="330,113.47 330.47,114.72 331.81,114.78 330.76,115.61 331.12,116.9 330,116.17 328.88,116.9 329.24,115.61 328.19,114.78 329.53,114.72" fill="#108a10" stroke="#108a10" stroke-width="0.4"/>
<circle cx="204.3" cy="115.69" r="1.8" fill="#fff" stroke="#ff0000" stroke-width="0.6"/>
<path d="M204.3,113.89 A1.8,1.8 0 0 1 204.3,117.49 Z" fill="#ff0000"/>
<circle cx="233.6" cy="115.67" r="1.8" fill="#fff" stroke="#ff0000" stroke-width="0.6"/>
<path d="M233.6,113.87 A1.8,1.8 0 0 1 233.6,117.47 Z" fill="#ff0000"/>
<circle cx="260.6" cy="115.65" r="1.8" fill="#fff" stroke="#ff0000" stroke-width="0.6"/>
<path d="M260.6,113.85 A1.8,1.8 0 0 1 260.6,117.45 Z" fill="#ff0000"/>
<circle cx="280.3" cy="115.64" r="1.8" fill="#fff" stroke="#ff0000" stroke-width="0.6"/>
<path d="M280.3,113.84 A1.8,1.8 0 0 1 280.3,117.44 Z" fill="#ff0000"/>
<circle cx="292.3" cy="115.63" r="1.8" fill="#fff" stroke="#ff0000" stroke-width="0.6"/>
<path d="M292.3,113.83 A1.8,1.8 0 0 1 292.3,117.43 Z" fill="#ff0000"/>
<circle cx="302" cy="115.62" r="1.8" fill="#fff" stroke="#ff0000" stroke-width="0.6"/>
<path d="M302,113.82 A1.8,1.8 0 0 1 302,117.42 Z" fill="#ff0000"/>
<circle cx="309" cy="115.62" r="1.8" fill="#fff" stroke="#ff0000" stroke-width="0.6"/>
<path d="M309,113.82 A1.8,1.8 0 0 1 309,117.42 Z" fill="#ff0000"/>
<circle cx="318" cy="115.61" r="1.8" fill="#fff" stroke="#ff0000" stroke-width="0.6"/>
<path d="M318,113.81 A1.8,1.8 0 0 1 318,117.41 Z" fill="#ff0000"/>
<circle cx="324" cy="115.61" r="1.8" fill="#fff" stroke="#ff0000" stroke-width="0.6"/>
<path d="M324,113.81 A1.8,1.8 0 0 1 324,117.41 Z" fill="#ff0000"/>
<circle cx="329" cy="115.6" r="1.8" fill="#fff" stroke="#ff0000" stroke-width="0.6"/>
<path d="M329,113.8 A1.8,1.8 0 0 1 329,117.4 Z" fill="#ff0000"/>
<rect x="209.25" y="111.75" width="2.9" height="2.9" fill="#fff" stroke="#0000ff" stroke-width="0.7"/>
<rect x="233.55" y="111.94" width="2.9" height="2.9" fill="#fff" stroke="#0000ff" stroke-width="0.7"/>
<rect x="254.85" y="112.31" width="2.9" height="2.9" fill="#fff" stroke="#0000ff" stroke-width="0.7"/>
<rect x="271.95" y="112.61" width="2.9" height="2.9" fill="#fff" stroke="#0000ff" stroke-width="0.7"/>
<rect x="284.05" y="112.85" width="2.9" height="2.9" fill="#fff" stroke="#0000ff" stroke-width="0.7"/>
<rect x="294.55" y="113.05" width="2.9" height="2.9" fill="#fff" stroke="#0000ff" stroke-width="0.7"/>
<rect x="303.55" y="113.22" width="2.9" height="2.9" fill="#fff" stroke="#0000ff" stroke-width="0.7"/>
<rect x="311.55" y="113.37" width="2.9" height="2.9" fill="#fff" stroke="#0000ff" stroke-width="0.7"/>
<rect x="318.55" y="113.5" width="2.9" height="2.9" fill="#fff" stroke="#0000ff" stroke-width="0.7"/>
<rect x="324.55" y="113.62" width="2.9" height="2.9" fill="#fff" stroke="#0000ff" stroke-width="0.7"/>
<path d="M190.7,235.5 L193.8,235.6 L197.98,235.74 L202.97,235.91 L208.47,236.09 L214.22,236.28 L219.91,236.47 L225.26,236.64 L230,236.8 L234.13,236.94 L237.92,237.08 L241.49,237.21 L244.96,237.34 L248.43,237.46 L252.01,237.58 L255.84,237.69 L260,237.8 L264.46,237.9 L269.08,238.01 L273.86,238.1 L278.79,238.19 L283.88,238.28 L289.11,238.36 L294.49,238.43 L300,238.5 L306.05,238.56 L312.83,238.61 L319.97,238.65 L327.15,238.69 L334.01,238.73 L340.22,238.76 L345.43,238.78 L349.3,238.8" fill="none" stroke="#333" stroke-width="1.0" stroke-dasharray="3.0,4.8"/>
<path d="M190.7,238.5 L202.82,238.53 L220.01,238.58 L240.58,238.64 L262.85,238.7 L285.12,238.76 L305.69,238.82 L322.88,238.87 L335,238.9" fill="none" stroke="#4444ee" stroke-width="1.0"/>
<rect x="198.2" y="237.22" width="2.6" height="2.6" fill="#fff" stroke="#2a2a8a" stroke-width="0.6"/>
<rect x="208.2" y="237.25" width="2.6" height="2.6" fill="#fff" stroke="#2a2a8a" stroke-width="0.6"/>
<rect x="218.2" y="237.28" width="2.6" height="2.6" fill="#fff" stroke="#2a2a8a" stroke-width="0.6"/>
<rect x="226.5" y="237.3" width="2.6" height="2.6" fill="#fff" stroke="#2a2a8a" stroke-width="0.6"/>
<rect x="234.7" y="237.33" width="2.6" height="2.6" fill="#fff" stroke="#2a2a8a" stroke-width="0.6"/>
<rect x="242.7" y="237.35" width="2.6" height="2.6" fill="#fff" stroke="#2a2a8a" stroke-width="0.6"/>
<rect x="250.7" y="237.37" width="2.6" height="2.6" fill="#fff" stroke="#2a2a8a" stroke-width="0.6"/>
<rect x="258.7" y="237.39" width="2.6" height="2.6" fill="#fff" stroke="#2a2a8a" stroke-width="0.6"/>
<rect x="266.7" y="237.41" width="2.6" height="2.6" fill="#fff" stroke="#2a2a8a" stroke-width="0.6"/>
<rect x="274.7" y="237.44" width="2.6" height="2.6" fill="#fff" stroke="#2a2a8a" stroke-width="0.6"/>
<rect x="282.7" y="237.46" width="2.6" height="2.6" fill="#fff" stroke="#2a2a8a" stroke-width="0.6"/>
<rect x="290.7" y="237.48" width="2.6" height="2.6" fill="#fff" stroke="#2a2a8a" stroke-width="0.6"/>
<rect x="298.7" y="237.5" width="2.6" height="2.6" fill="#fff" stroke="#2a2a8a" stroke-width="0.6"/>
<rect x="306.7" y="237.53" width="2.6" height="2.6" fill="#fff" stroke="#2a2a8a" stroke-width="0.6"/>
<rect x="314.7" y="237.55" width="2.6" height="2.6" fill="#fff" stroke="#2a2a8a" stroke-width="0.6"/>
<rect x="322.7" y="237.57" width="2.6" height="2.6" fill="#fff" stroke="#2a2a8a" stroke-width="0.6"/>
<rect x="329.7" y="237.59" width="2.6" height="2.6" fill="#fff" stroke="#2a2a8a" stroke-width="0.6"/>
<path d="M190.7,238.9 L335,239" fill="none" stroke="#111" stroke-width="1.1" stroke-dasharray="2.6,6.2"/>
<path d="M190.7,237 L192.39,237.04 L194,237.09 L195.86,237.15 L198.29,237.22 L201.59,237.3 L206.1,237.39 L212.13,237.49 L220,237.6 L230.89,237.73 L245.01,237.89 L261.21,238.06 L278.33,238.24 L295.22,238.41 L310.73,238.57 L323.71,238.7 L333,238.8" fill="none" stroke="#ff0000" stroke-width="1.1"/>
<circle cx="217.9" cy="237.57" r="1.7" fill="#fff" stroke="#ff0000" stroke-width="0.5"/>
<path d="M217.9,235.87 A1.7,1.7 0 0 1 217.9,239.27 Z" fill="#ff0000"/>
<circle cx="241.7" cy="237.85" r="1.7" fill="#fff" stroke="#ff0000" stroke-width="0.5"/>
<path d="M241.7,236.15 A1.7,1.7 0 0 1 241.7,239.55 Z" fill="#ff0000"/>
<circle cx="263.4" cy="238.08" r="1.7" fill="#fff" stroke="#ff0000" stroke-width="0.5"/>
<path d="M263.4,236.38 A1.7,1.7 0 0 1 263.4,239.78 Z" fill="#ff0000"/>
<circle cx="278" cy="238.23" r="1.7" fill="#fff" stroke="#ff0000" stroke-width="0.5"/>
<path d="M278,236.53 A1.7,1.7 0 0 1 278,239.93 Z" fill="#ff0000"/>
<circle cx="290.8" cy="238.37" r="1.7" fill="#fff" stroke="#ff0000" stroke-width="0.5"/>
<path d="M290.8,236.67 A1.7,1.7 0 0 1 290.8,240.07 Z" fill="#ff0000"/>
<circle cx="298.6" cy="238.45" r="1.7" fill="#fff" stroke="#ff0000" stroke-width="0.5"/>
<path d="M298.6,236.75 A1.7,1.7 0 0 1 298.6,240.15 Z" fill="#ff0000"/>
<circle cx="305" cy="238.51" r="1.7" fill="#fff" stroke="#ff0000" stroke-width="0.5"/>
<path d="M305,236.81 A1.7,1.7 0 0 1 305,240.21 Z" fill="#ff0000"/>
<circle cx="311.4" cy="238.58" r="1.7" fill="#fff" stroke="#ff0000" stroke-width="0.5"/>
<path d="M311.4,236.88 A1.7,1.7 0 0 1 311.4,240.28 Z" fill="#ff0000"/>
<circle cx="315.3" cy="238.62" r="1.7" fill="#fff" stroke="#ff0000" stroke-width="0.5"/>
<path d="M315.3,236.92 A1.7,1.7 0 0 1 315.3,240.32 Z" fill="#ff0000"/>
<circle cx="319.1" cy="238.66" r="1.7" fill="#fff" stroke="#ff0000" stroke-width="0.5"/>
<path d="M319.1,236.96 A1.7,1.7 0 0 1 319.1,240.36 Z" fill="#ff0000"/>
<circle cx="323" cy="238.7" r="1.7" fill="#fff" stroke="#ff0000" stroke-width="0.5"/>
<path d="M323,237 A1.7,1.7 0 0 1 323,240.4 Z" fill="#ff0000"/>
<circle cx="326.8" cy="238.74" r="1.7" fill="#fff" stroke="#ff0000" stroke-width="0.5"/>
<path d="M326.8,237.04 A1.7,1.7 0 0 1 326.8,240.44 Z" fill="#ff0000"/>
<circle cx="329.4" cy="238.76" r="1.7" fill="#fff" stroke="#ff0000" stroke-width="0.5"/>
<path d="M329.4,237.06 A1.7,1.7 0 0 1 329.4,240.46 Z" fill="#ff0000"/>
<path d="M190.7,230.9 L201.4,231.7 L213.6,232.7 L225,234.1 L236.4,235.1 L256.6,236.6 L290,237.8 L333,238.5" fill="none" stroke="#108a10" stroke-width="1.0"/>
<polygon points="201.4,229.7 201.89,231.02 203.3,231.08 202.2,231.96 202.58,233.32 201.4,232.54 200.22,233.32 200.6,231.96 199.5,231.08 200.91,231.02" fill="#108a10" stroke="#108a10" stroke-width="0.4"/>
<polygon points="213.6,230.7 214.09,232.02 215.5,232.08 214.4,232.96 214.78,234.32 213.6,233.54 212.42,234.32 212.8,232.96 211.7,232.08 213.11,232.02" fill="#108a10" stroke="#108a10" stroke-width="0.4"/>
<polygon points="225,232.1 225.49,233.42 226.9,233.48 225.8,234.36 226.18,235.72 225,234.94 223.82,235.72 224.2,234.36 223.1,233.48 224.51,233.42" fill="#108a10" stroke="#108a10" stroke-width="0.4"/>
<polygon points="236.4,233.1 236.89,234.42 238.3,234.48 237.2,235.36 237.58,236.72 236.4,235.94 235.22,236.72 235.6,235.36 234.5,234.48 235.91,234.42" fill="#108a10" stroke="#108a10" stroke-width="0.4"/>
<polygon points="248,233.96 248.49,235.28 249.9,235.34 248.8,236.22 249.18,237.58 248,236.8 246.82,237.58 247.2,236.22 246.1,235.34 247.51,235.28" fill="#108a10" stroke="#108a10" stroke-width="0.4"/>
<polygon points="260,234.72 260.49,236.04 261.9,236.1 260.8,236.98 261.18,238.34 260,237.56 258.82,238.34 259.2,236.98 258.1,236.1 259.51,236.04" fill="#108a10" stroke="#108a10" stroke-width="0.4"/>
<polygon points="272,235.15 272.49,236.47 273.9,236.54 272.8,237.41 273.18,238.77 272,237.99 270.82,238.77 271.2,237.41 270.1,236.54 271.51,236.47" fill="#108a10" stroke="#108a10" stroke-width="0.4"/>
<polygon points="284,235.58 284.49,236.9 285.9,236.97 284.8,237.84 285.18,239.2 284,238.42 282.82,239.2 283.2,237.84 282.1,236.97 283.51,236.9" fill="#108a10" stroke="#108a10" stroke-width="0.4"/>
<polygon points="296,235.9 296.49,237.22 297.9,237.28 296.8,238.16 297.18,239.52 296,238.74 294.82,239.52 295.2,238.16 294.1,237.28 295.51,237.22" fill="#108a10" stroke="#108a10" stroke-width="0.4"/>
<polygon points="308,236.09 308.49,237.41 309.9,237.47 308.8,238.35 309.18,239.71 308,238.93 306.82,239.71 307.2,238.35 306.1,237.47 307.51,237.41" fill="#108a10" stroke="#108a10" stroke-width="0.4"/>
<polygon points="320,236.29 320.49,237.61 321.9,237.67 320.8,238.55 321.18,239.91 320,239.13 318.82,239.91 319.2,238.55 318.1,237.67 319.51,237.61" fill="#108a10" stroke="#108a10" stroke-width="0.4"/>
<polygon points="331,236.47 331.49,237.79 332.9,237.85 331.8,238.73 332.18,240.09 331,239.31 329.82,240.09 330.2,238.73 329.1,237.85 330.51,237.79" fill="#108a10" stroke="#108a10" stroke-width="0.4"/>
<path d="M190.7,196.3 L191.81,197.01 L193.27,197.95 L195.01,199.06 L196.94,200.31 L199.01,201.63 L201.12,202.99 L203.21,204.33 L205.2,205.6 L207.14,206.86 L209.12,208.17 L211.14,209.52 L213.18,210.88 L215.22,212.21 L217.27,213.51 L219.3,214.75 L221.3,215.9 L223.29,216.97 L225.29,217.99 L227.28,218.95 L229.26,219.87 L231.23,220.75 L233.18,221.59 L235.11,222.41 L237,223.2 L238.87,223.96 L240.74,224.69 L242.59,225.39 L244.41,226.05 L246.2,226.68 L247.95,227.28 L249.66,227.86 L251.3,228.4 L252.88,228.91 L254.4,229.39 L255.88,229.83 L257.31,230.24 L258.71,230.63 L260.09,231 L261.45,231.36 L262.8,231.7 L264.13,232.02 L265.42,232.32 L266.69,232.59 L267.93,232.84 L269.17,233.09 L270.4,233.32 L271.64,233.56 L272.9,233.8 L274.17,234.04 L275.44,234.28 L276.71,234.52 L277.99,234.75 L279.26,234.97 L280.54,235.19 L281.82,235.4 L283.1,235.6 L284.4,235.79 L285.73,235.97 L287.07,236.15 L288.41,236.32 L289.72,236.48 L291.01,236.63 L292.24,236.77 L293.4,236.9 L294.44,237.02 L295.36,237.12 L296.21,237.21 L297.03,237.29 L297.87,237.36 L298.8,237.44 L299.86,237.52 L301.1,237.6 L302.51,237.69 L304.04,237.78 L305.68,237.87 L307.41,237.96 L309.21,238.04 L311.09,238.13 L313.02,238.22 L315,238.3 L317.18,238.38 L319.63,238.47 L322.24,238.56 L324.87,238.64 L327.39,238.72 L329.67,238.79 L331.58,238.85 L333,238.9" fill="none" stroke="#0000ff" stroke-width="0.9"/>
<rect x="203.7" y="204.1" width="3" height="3" fill="#0000ff" stroke="#0000ff" stroke-width="0.4"/>
<rect x="219.8" y="214.4" width="3" height="3" fill="#0000ff" stroke="#0000ff" stroke-width="0.4"/>
<rect x="235.5" y="221.7" width="3" height="3" fill="#0000ff" stroke="#0000ff" stroke-width="0.4"/>
<rect x="249.8" y="226.9" width="3" height="3" fill="#0000ff" stroke="#0000ff" stroke-width="0.4"/>
<rect x="261.3" y="230.2" width="3" height="3" fill="#0000ff" stroke="#0000ff" stroke-width="0.4"/>
<rect x="271.4" y="232.3" width="3" height="3" fill="#0000ff" stroke="#0000ff" stroke-width="0.4"/>
<rect x="281.6" y="234.1" width="3" height="3" fill="#0000ff" stroke="#0000ff" stroke-width="0.4"/>
<rect x="291.9" y="235.4" width="3" height="3" fill="#0000ff" stroke="#0000ff" stroke-width="0.4"/>
<rect x="299.6" y="236.1" width="3" height="3" fill="#0000ff" stroke="#0000ff" stroke-width="0.4"/>
<rect x="306.5" y="236.49" width="3" height="3" fill="#0000ff" stroke="#0000ff" stroke-width="0.4"/>
<rect x="312.5" y="236.76" width="3" height="3" fill="#0000ff" stroke="#0000ff" stroke-width="0.4"/>
<rect x="318.5" y="236.98" width="3" height="3" fill="#0000ff" stroke="#0000ff" stroke-width="0.4"/>
<rect x="324.5" y="237.18" width="3" height="3" fill="#0000ff" stroke="#0000ff" stroke-width="0.4"/>
<rect x="330.5" y="237.37" width="3" height="3" fill="#0000ff" stroke="#0000ff" stroke-width="0.4"/>
<rect x="264.8" y="4.5" width="79.9" height="70.8" fill="#fff" stroke="#999" stroke-width="1.0"/>
<path d="M270.81,75.3 v-1.2 M270.81,4.5 v1.2 M274.33,75.3 v-1.2 M274.33,4.5 v1.2 M276.83,75.3 v-1.2 M276.83,4.5 v1.2 M278.76,75.3 v-1.2 M278.76,4.5 v1.2 M280.34,75.3 v-1.2 M280.34,4.5 v1.2 M281.68,75.3 v-1.2 M281.68,4.5 v1.2 M282.84,75.3 v-1.2 M282.84,4.5 v1.2 M283.86,75.3 v-1.2 M283.86,4.5 v1.2 M284.77,75.3 v-2 M284.77,4.5 v2 M290.79,75.3 v-1.2 M290.79,4.5 v1.2 M294.31,75.3 v-1.2 M294.31,4.5 v1.2 M296.8,75.3 v-1.2 M296.8,4.5 v1.2 M298.74,75.3 v-1.2 M298.74,4.5 v1.2 M300.32,75.3 v-1.2 M300.32,4.5 v1.2 M301.66,75.3 v-1.2 M301.66,4.5 v1.2 M302.81,75.3 v-1.2 M302.81,4.5 v1.2 M303.84,75.3 v-1.2 M303.84,4.5 v1.2 M304.75,75.3 v-2 M304.75,4.5 v2 M310.76,75.3 v-1.2 M310.76,4.5 v1.2 M314.28,75.3 v-1.2 M314.28,4.5 v1.2 M316.78,75.3 v-1.2 M316.78,4.5 v1.2 M318.71,75.3 v-1.2 M318.71,4.5 v1.2 M320.29,75.3 v-1.2 M320.29,4.5 v1.2 M321.63,75.3 v-1.2 M321.63,4.5 v1.2 M322.79,75.3 v-1.2 M322.79,4.5 v1.2 M323.81,75.3 v-1.2 M323.81,4.5 v1.2 M324.73,75.3 v-2 M324.73,4.5 v2 M330.74,75.3 v-1.2 M330.74,4.5 v1.2 M334.26,75.3 v-1.2 M334.26,4.5 v1.2 M336.75,75.3 v-1.2 M336.75,4.5 v1.2 M338.69,75.3 v-1.2 M338.69,4.5 v1.2 M340.27,75.3 v-1.2 M340.27,4.5 v1.2 M341.61,75.3 v-1.2 M341.61,4.5 v1.2 M342.76,75.3 v-1.2 M342.76,4.5 v1.2 M343.79,75.3 v-1.2 M343.79,4.5 v1.2 M264.8,72.2 h2 M344.7,72.2 h-2 M264.8,40.8 h2 M344.7,40.8 h-2 M264.8,9.4 h2 M344.7,9.4 h-2 M264.8,56.5 h2 M344.7,56.5 h-2 M264.8,25.1 h2 M344.7,25.1 h-2" stroke="#555" stroke-width="0.6" fill="none"/>
<path d="M264.8,54.8 L335,55.2" fill="none" stroke="#ff0000" stroke-width="0.7"/>
<path d="M264.8,55.6 L335,55.8" fill="none" stroke="#3a2ad0" stroke-width="0.7"/>
<path d="M264.8,56.8 L336,56.6" fill="none" stroke="#111" stroke-width="1.1" stroke-dasharray="3.2,5.4"/>
<path d="M264.8,46.6 L273.4,47.8 L284.3,49.9 L295.1,51.5 L306,53.1 L320,54.8 L330,55.6 L343,56.4" fill="none" stroke="#55aa55" stroke-width="0.9"/>
<polygon points="273.4,46.6 273.7,47.39 274.54,47.43 273.88,47.96 274.11,48.77 273.4,48.3 272.69,48.77 272.92,47.96 272.26,47.43 273.1,47.39" fill="#4a4" stroke="#4a4" stroke-width="0.3"/>
<polygon points="284.3,48.7 284.6,49.49 285.44,49.53 284.78,50.06 285.01,50.87 284.3,50.4 283.59,50.87 283.82,50.06 283.16,49.53 284,49.49" fill="#4a4" stroke="#4a4" stroke-width="0.3"/>
<polygon points="295.1,50.3 295.4,51.09 296.24,51.13 295.58,51.66 295.81,52.47 295.1,52 294.39,52.47 294.62,51.66 293.96,51.13 294.8,51.09" fill="#4a4" stroke="#4a4" stroke-width="0.3"/>
<polygon points="306,51.9 306.3,52.69 307.14,52.73 306.48,53.26 306.71,54.07 306,53.6 305.29,54.07 305.52,53.26 304.86,52.73 305.7,52.69" fill="#4a4" stroke="#4a4" stroke-width="0.3"/>
<polygon points="316,53.11 316.3,53.91 317.14,53.94 316.48,54.47 316.71,55.29 316,54.82 315.29,55.29 315.52,54.47 314.86,53.94 315.7,53.91" fill="#4a4" stroke="#4a4" stroke-width="0.3"/>
<polygon points="325,54 325.3,54.79 326.14,54.83 325.48,55.36 325.71,56.17 325,55.7 324.29,56.17 324.52,55.36 323.86,54.83 324.7,54.79" fill="#4a4" stroke="#4a4" stroke-width="0.3"/>
<path d="M270.8,45.6 L271.97,45.79 L273.54,46.03 L275.4,46.32 L277.47,46.65 L279.65,46.99 L281.86,47.34 L284.01,47.68 L286,48 L287.88,48.3 L289.76,48.61 L291.64,48.92 L293.52,49.23 L295.38,49.53 L297.24,49.83 L299.08,50.12 L300.9,50.4 L302.72,50.67 L304.55,50.94 L306.37,51.21 L308.17,51.46 L309.95,51.71 L311.69,51.95 L313.38,52.18 L315,52.4 L316.56,52.61 L318.08,52.8 L319.56,52.98 L320.99,53.15 L322.38,53.32 L323.72,53.48 L325.03,53.64 L326.3,53.8 L327.57,53.97 L328.86,54.14 L330.14,54.32 L331.36,54.49 L332.49,54.65 L333.5,54.79 L334.35,54.91 L335,55" fill="none" stroke="#8a8a8a" stroke-width="0.8" stroke-dasharray="0.6,1.4"/>
<path d="M264.8,26.5 L275.5,31.6 L288.3,37.7 L300.6,43.5 L310,47.5 L317.1,50 L325,52.5 L332,54.3 L339.5,55.8 L344.2,56.2" fill="none" stroke="#4d5cff" stroke-width="0.8"/>
<rect x="274.5" y="30.6" width="2" height="2" fill="#fff" stroke="#4d5cff" stroke-width="0.45"/>
<rect x="287.3" y="36.7" width="2" height="2" fill="#fff" stroke="#4d5cff" stroke-width="0.45"/>
<rect x="299.6" y="42.5" width="2" height="2" fill="#fff" stroke="#4d5cff" stroke-width="0.45"/>
<rect x="312" y="47.56" width="2" height="2" fill="#fff" stroke="#4d5cff" stroke-width="0.45"/>
<rect x="324" y="51.5" width="2" height="2" fill="#fff" stroke="#4d5cff" stroke-width="0.45"/>
<rect x="333" y="53.7" width="2" height="2" fill="#fff" stroke="#4d5cff" stroke-width="0.45"/>
<circle cx="272.3" cy="54.84" r="1.3" fill="#fff" stroke="#ff0000" stroke-width="0.4"/>
<path d="M272.3,53.54 A1.3,1.3 0 0 1 272.3,56.14 Z" fill="#ff0000"/>
<circle cx="288.3" cy="54.93" r="1.3" fill="#fff" stroke="#ff0000" stroke-width="0.4"/>
<path d="M288.3,53.63 A1.3,1.3 0 0 1 288.3,56.23 Z" fill="#ff0000"/>
<circle cx="302.6" cy="55.02" r="1.3" fill="#fff" stroke="#ff0000" stroke-width="0.4"/>
<path d="M302.6,53.72 A1.3,1.3 0 0 1 302.6,56.32 Z" fill="#ff0000"/>
<circle cx="309.2" cy="55.05" r="1.3" fill="#fff" stroke="#ff0000" stroke-width="0.4"/>
<path d="M309.2,53.75 A1.3,1.3 0 0 1 309.2,56.35 Z" fill="#ff0000"/>
<circle cx="317.1" cy="55.1" r="1.3" fill="#fff" stroke="#ff0000" stroke-width="0.4"/>
<path d="M317.1,53.8 A1.3,1.3 0 0 1 317.1,56.4 Z" fill="#ff0000"/>
<circle cx="325" cy="55.14" r="1.3" fill="#fff" stroke="#ff0000" stroke-width="0.4"/>
<path d="M325,53.84 A1.3,1.3 0 0 1 325,56.44 Z" fill="#ff0000"/>
<circle cx="329" cy="55.17" r="1.3" fill="#fff" stroke="#ff0000" stroke-width="0.4"/>
<path d="M329,53.87 A1.3,1.3 0 0 1 329,56.47 Z" fill="#ff0000"/>
<circle cx="332.9" cy="55.19" r="1.3" fill="#fff" stroke="#ff0000" stroke-width="0.4"/>
<path d="M332.9,53.89 A1.3,1.3 0 0 1 332.9,56.49 Z" fill="#ff0000"/>
<rect x="272.8" y="54.43" width="2.4" height="2.4" fill="#0000ff" stroke="#0000ff" stroke-width="0.3"/>
<rect x="283.1" y="54.46" width="2.4" height="2.4" fill="#0000ff" stroke="#0000ff" stroke-width="0.3"/>
<rect x="293.9" y="54.49" width="2.4" height="2.4" fill="#0000ff" stroke="#0000ff" stroke-width="0.3"/>
<rect x="303.8" y="54.51" width="2.4" height="2.4" fill="#0000ff" stroke="#0000ff" stroke-width="0.3"/>
<rect x="311.8" y="54.54" width="2.4" height="2.4" fill="#0000ff" stroke="#0000ff" stroke-width="0.3"/>
<rect x="318.8" y="54.56" width="2.4" height="2.4" fill="#0000ff" stroke="#0000ff" stroke-width="0.3"/>
<rect x="325.8" y="54.58" width="2.4" height="2.4" fill="#0000ff" stroke="#0000ff" stroke-width="0.3"/>
<rect x="329.8" y="54.59" width="2.4" height="2.4" fill="#0000ff" stroke="#0000ff" stroke-width="0.3"/>
<text x="32.41" y="15.4" font-size="9.1" fill="#000" textLength="12.16" lengthAdjust="spacingAndGlyphs" font-weight="bold">(A)</text>
<text x="62.22" y="13.6" font-size="9" fill="#000" textLength="68.65" lengthAdjust="spacingAndGlyphs">Single Transistors</text>
<text x="78.44" y="25.7" font-size="9" fill="#000" textLength="56.57" lengthAdjust="spacingAndGlyphs">n-Type UTBBs</text>
<text x="89.88" y="49.6" font-size="8.9" fill="#000" textLength="56.16" lengthAdjust="spacingAndGlyphs">L= 25nm,50nm</text>
<path d="M105,54.9 h18.2" stroke="#ff00ff" stroke-width="1"/>
<path d="M114,50.9 L118,54.9 L114,58.9 L110,54.9 Z" fill="#fff" stroke="#ff00ff" stroke-width="0.9"/>
<path d="M124.9,54.9 h17.2" stroke="#108a10" stroke-width="0.9"/>
<polygon points="134.2,51.2 135.11,53.64 137.72,53.76 135.68,55.38 136.37,57.89 134.2,56.45 132.03,57.89 132.72,55.38 130.68,53.76 133.29,53.64" fill="#fff" stroke="#108a10" stroke-width="0.7"/>
<text x="123.4" y="56.9" font-size="7" fill="#000">,</text>
<text x="144.67" y="57.9" font-size="9.2" fill="#000" textLength="5.08" lengthAdjust="spacingAndGlyphs" xml:space="preserve">V</text>
<text x="149.75" y="61.8" font-size="5.6" fill="#000" textLength="6.18" lengthAdjust="spacingAndGlyphs" xml:space="preserve">BS</text>
<text x="155.94" y="57.9" font-size="9.2" fill="#000" textLength="22.64" lengthAdjust="spacingAndGlyphs" xml:space="preserve"> = -2 V</text>
<path d="M105,67.4 h17.2" stroke="#777" stroke-width="1.4"/>
<path d="M126.2,67.4 h13" stroke="#777" stroke-width="1.2" stroke-dasharray="1.9,2.7"/>
<text x="123.4" y="69.4" font-size="7" fill="#000">,</text>
<text x="144.67" y="70.4" font-size="9.2" fill="#000" textLength="5.14" lengthAdjust="spacingAndGlyphs" xml:space="preserve">V</text>
<text x="149.82" y="74.3" font-size="5.6" fill="#000" textLength="6.26" lengthAdjust="spacingAndGlyphs" xml:space="preserve">BS</text>
<text x="156.08" y="70.4" font-size="9.2" fill="#000" textLength="20.36" lengthAdjust="spacingAndGlyphs" xml:space="preserve"> = 0 V</text>
<path d="M105,80.5 h18.2" stroke="#ff00ff" stroke-width="1"/>
<path d="M114,76.5 L118,80.5 L114,84.5 L110,80.5 Z" fill="#ff00ff" stroke="#ff00ff" stroke-width="0.9"/>
<path d="M124.9,80.5 h17.2" stroke="#108a10" stroke-width="0.9"/>
<polygon points="134.2,76.8 135.11,79.24 137.72,79.36 135.68,80.98 136.37,83.49 134.2,82.05 132.03,83.49 132.72,80.98 130.68,79.36 133.29,79.24" fill="#108a10" stroke="#108a10" stroke-width="0.7"/>
<text x="123.4" y="82.5" font-size="7" fill="#000">,</text>
<text x="144.67" y="83.5" font-size="9.2" fill="#000" textLength="5.14" lengthAdjust="spacingAndGlyphs" xml:space="preserve">V</text>
<text x="149.82" y="87.4" font-size="5.6" fill="#000" textLength="6.26" lengthAdjust="spacingAndGlyphs" xml:space="preserve">BS</text>
<text x="156.08" y="83.5" font-size="9.2" fill="#000" textLength="20.36" lengthAdjust="spacingAndGlyphs" xml:space="preserve"> = 2 V</text>
<text x="137.68" y="103.3" font-size="9" fill="#000" textLength="4.99" lengthAdjust="spacingAndGlyphs" xml:space="preserve">V</text>
<text x="142.67" y="106.6" font-size="5.4" fill="#000" textLength="12.49" lengthAdjust="spacingAndGlyphs" xml:space="preserve">DSout</text>
<text x="155.16" y="103.3" font-size="9" fill="#000" textLength="19.77" lengthAdjust="spacingAndGlyphs" xml:space="preserve"> = 1 V</text>
<text x="69.06" y="114.3" font-size="8.8" fill="#000" textLength="36.17" lengthAdjust="spacingAndGlyphs">L= 50 nm</text>
<text x="37.69" y="138.8" font-size="9.2" fill="#000" textLength="12.7" lengthAdjust="spacingAndGlyphs" font-weight="bold">(C)</text>
<text x="80.62" y="139.5" font-size="9" fill="#000" textLength="68.96" lengthAdjust="spacingAndGlyphs">Single Transistors</text>
<text x="97.83" y="150.6" font-size="9" fill="#000" textLength="56.59" lengthAdjust="spacingAndGlyphs">p-Type UTBBs</text>
<text x="93.69" y="167.3" font-size="8.9" fill="#000" textLength="55.44" lengthAdjust="spacingAndGlyphs">L= 25nm,50nm</text>
<path d="M108.7,177.4 h18.2" stroke="#ff00ff" stroke-width="1"/>
<path d="M117.7,173.4 L121.7,177.4 L117.7,181.4 L113.7,177.4 Z" fill="#fff" stroke="#ff00ff" stroke-width="0.9"/>
<path d="M128.6,177.4 h17.2" stroke="#108a10" stroke-width="0.9"/>
<polygon points="137.9,173.7 138.81,176.14 141.42,176.26 139.38,177.88 140.07,180.39 137.9,178.95 135.73,180.39 136.42,177.88 134.38,176.26 136.99,176.14" fill="#fff" stroke="#108a10" stroke-width="0.7"/>
<text x="127.1" y="179.4" font-size="7" fill="#000">,</text>
<text x="147.77" y="180.4" font-size="9.2" fill="#000" textLength="5.15" lengthAdjust="spacingAndGlyphs" xml:space="preserve">V</text>
<text x="152.93" y="184.3" font-size="5.6" fill="#000" textLength="6.27" lengthAdjust="spacingAndGlyphs" xml:space="preserve">BS</text>
<text x="159.2" y="180.4" font-size="9.2" fill="#000" textLength="22.98" lengthAdjust="spacingAndGlyphs" xml:space="preserve"> = -2 V</text>
<path d="M108.7,190.2 h17.2" stroke="#777" stroke-width="1.4"/>
<path d="M129.9,190.2 h13" stroke="#777" stroke-width="1.2" stroke-dasharray="1.9,2.7"/>
<text x="127.1" y="192.2" font-size="7" fill="#000">,</text>
<text x="147.77" y="193.2" font-size="9.2" fill="#000" textLength="5.22" lengthAdjust="spacingAndGlyphs" xml:space="preserve">V</text>
<text x="153" y="197.1" font-size="5.6" fill="#000" textLength="6.36" lengthAdjust="spacingAndGlyphs" xml:space="preserve">BS</text>
<text x="159.35" y="193.2" font-size="9.2" fill="#000" textLength="20.68" lengthAdjust="spacingAndGlyphs" xml:space="preserve"> = 0 V</text>
<path d="M108.7,202.6 h18.2" stroke="#ff00ff" stroke-width="1"/>
<path d="M117.7,198.6 L121.7,202.6 L117.7,206.6 L113.7,202.6 Z" fill="#ff00ff" stroke="#ff00ff" stroke-width="0.9"/>
<path d="M128.6,202.6 h17.2" stroke="#108a10" stroke-width="0.9"/>
<polygon points="137.9,198.9 138.81,201.34 141.42,201.46 139.38,203.08 140.07,205.59 137.9,204.15 135.73,205.59 136.42,203.08 134.38,201.46 136.99,201.34" fill="#108a10" stroke="#108a10" stroke-width="0.7"/>
<text x="127.1" y="204.6" font-size="7" fill="#000">,</text>
<text x="147.77" y="205.6" font-size="9.2" fill="#000" textLength="5.22" lengthAdjust="spacingAndGlyphs" xml:space="preserve">V</text>
<text x="153" y="209.5" font-size="5.6" fill="#000" textLength="6.36" lengthAdjust="spacingAndGlyphs" xml:space="preserve">BS</text>
<text x="159.35" y="205.6" font-size="9.2" fill="#000" textLength="20.68" lengthAdjust="spacingAndGlyphs" xml:space="preserve"> = 2 V</text>
<text x="139.87" y="223.8" font-size="9" fill="#000" textLength="5.04" lengthAdjust="spacingAndGlyphs" xml:space="preserve">V</text>
<text x="144.91" y="227.1" font-size="5.4" fill="#000" textLength="12.6" lengthAdjust="spacingAndGlyphs" xml:space="preserve">DSout</text>
<text x="157.51" y="223.8" font-size="9" fill="#000" textLength="22.47" lengthAdjust="spacingAndGlyphs" xml:space="preserve"> = -1 V</text>
<text x="195.39" y="12.9" font-size="9" fill="#000" textLength="12.81" lengthAdjust="spacingAndGlyphs" font-weight="bold">(B)</text>
<text x="195.62" y="27.3" font-size="9" fill="#000" textLength="51.09" lengthAdjust="spacingAndGlyphs">Self-Cascode</text>
<text x="195.23" y="38.6" font-size="9" fill="#000" textLength="57.18" lengthAdjust="spacingAndGlyphs">n-Type UTBBs</text>
<text x="211.17" y="48.6" font-size="8.6" fill="#000" textLength="5.12" lengthAdjust="spacingAndGlyphs" xml:space="preserve">V</text>
<text x="216.29" y="51.8" font-size="5" fill="#000" textLength="12.15" lengthAdjust="spacingAndGlyphs" xml:space="preserve">BSM1</text>
<text x="228.44" y="48.6" font-size="8.6" fill="#000" textLength="7.25" lengthAdjust="spacingAndGlyphs" xml:space="preserve">;V</text>
<text x="235.69" y="51.8" font-size="5" fill="#000" textLength="12.15" lengthAdjust="spacingAndGlyphs" xml:space="preserve">BSM2</text>
<path d="M198.1,59.1 H215.3" stroke="#0000ff" stroke-width="1"/>
<rect x="204.1" y="56.5" width="5.2" height="5.2" fill="#0000ff" stroke="#0000ff" stroke-width="0.6"/>
<text x="218.05" y="61.8" font-size="8.6" fill="#000" textLength="27.02" lengthAdjust="spacingAndGlyphs">-2V ; 0V</text>
<path d="M198.1,69.4 H215.3" stroke="#0000ff" stroke-width="1"/>
<rect x="204.2" y="66.9" width="5" height="5" fill="#fff" stroke="#0000ff" stroke-width="0.8"/>
<text x="219.87" y="72.1" font-size="8.6" fill="#000" textLength="24.95" lengthAdjust="spacingAndGlyphs">2V ; 0V</text>
<path d="M198.1,79.3 H215.3" stroke="#ff0000" stroke-width="1"/>
<circle cx="206.7" cy="79.3" r="2.9" fill="#fff" stroke="#ff0000" stroke-width="0.8"/>
<path d="M206.7,76.4 A2.9,2.9 0 0 1 206.7,82.2 Z" fill="#ff0000"/>
<text x="218.05" y="82" font-size="8.6" fill="#000" textLength="27.02" lengthAdjust="spacingAndGlyphs">-2V ; 2V</text>
<path d="M198.1,89.8 H215.3" stroke="#108a10" stroke-width="1"/>
<polygon points="206.7,86.2 207.59,88.58 210.12,88.69 208.14,90.27 208.82,92.71 206.7,91.31 204.58,92.71 205.26,90.27 203.28,88.69 205.81,88.58" fill="#fff" stroke="#108a10" stroke-width="0.7"/>
<text x="219.95" y="92.5" font-size="8.6" fill="#000" textLength="27.42" lengthAdjust="spacingAndGlyphs">0V ; -2V</text>
<path d="M198.1,99.9 H215.3" stroke="#108a10" stroke-width="1"/>
<polygon points="206.7,96.2 207.61,98.64 210.22,98.76 208.18,100.38 208.87,102.89 206.7,101.45 204.53,102.89 205.22,100.38 203.18,98.76 205.79,98.64" fill="#108a10" stroke="#108a10" stroke-width="0.5"/>
<text x="219.95" y="102.6" font-size="8.6" fill="#000" textLength="24.88" lengthAdjust="spacingAndGlyphs">0V ; 2V</text>
<path d="M258.3,100.1 H274" stroke="#000" stroke-width="0.9" stroke-dasharray="2.5,2.8"/>
<text x="275.67" y="103.1" font-size="8.8" fill="#000" textLength="5.54" lengthAdjust="spacingAndGlyphs" xml:space="preserve">V</text>
<text x="281.2" y="106.2" font-size="5.2" fill="#000" textLength="13.36" lengthAdjust="spacingAndGlyphs" xml:space="preserve">BSM1</text>
<text x="294.56" y="103.1" font-size="8.8" fill="#000" textLength="10.39" lengthAdjust="spacingAndGlyphs" xml:space="preserve">=V</text>
<text x="304.95" y="106.2" font-size="5.2" fill="#000" textLength="13.36" lengthAdjust="spacingAndGlyphs" xml:space="preserve">BSM2</text>
<text x="318.31" y="103.1" font-size="8.8" fill="#000" textLength="15" lengthAdjust="spacingAndGlyphs" xml:space="preserve">=0V</text>
<text x="252.93" y="12.2" font-size="9" fill="#000" textLength="12.47" lengthAdjust="spacingAndGlyphs">1.6</text>
<text x="252.93" y="43.1" font-size="9" fill="#000" textLength="12.47" lengthAdjust="spacingAndGlyphs">1.2</text>
<text x="252.79" y="74.8" font-size="9" fill="#000" textLength="12.62" lengthAdjust="spacingAndGlyphs">0.8</text>
<text x="255.66" y="85.6" font-size="9.6" fill="#000" textLength="9.56" lengthAdjust="spacingAndGlyphs">10</text>
<text x="265.98" y="79.6" font-size="5.6" fill="#000" textLength="3.89" lengthAdjust="spacingAndGlyphs">-7</text>
<text x="295.65" y="85.6" font-size="9.6" fill="#000" textLength="9.68" lengthAdjust="spacingAndGlyphs">10</text>
<text x="306.16" y="79.6" font-size="5.6" fill="#000" textLength="4.17" lengthAdjust="spacingAndGlyphs">-5</text>
<text x="336.99" y="85.6" font-size="9.6" fill="#000" textLength="7.79" lengthAdjust="spacingAndGlyphs">10</text>
<text x="345.1" y="79.6" font-size="5.6" fill="#000" textLength="3.33" lengthAdjust="spacingAndGlyphs">-3</text>
<text x="289.8" y="16.4" font-size="9" fill="#000" textLength="4.49" lengthAdjust="spacingAndGlyphs" xml:space="preserve">L</text>
<text x="294.29" y="20" font-size="5.4" fill="#000" textLength="6.73" lengthAdjust="spacingAndGlyphs" xml:space="preserve">M1</text>
<text x="301.02" y="16.4" font-size="9" fill="#000" textLength="9.21" lengthAdjust="spacingAndGlyphs" xml:space="preserve">=L</text>
<text x="310.23" y="20" font-size="5.4" fill="#000" textLength="6.73" lengthAdjust="spacingAndGlyphs" xml:space="preserve">M2</text>
<text x="316.96" y="16.4" font-size="9" fill="#000" textLength="24.92" lengthAdjust="spacingAndGlyphs" xml:space="preserve">=25nm</text>
<text x="299.67" y="32.1" font-size="9.2" fill="#000" textLength="5.01" lengthAdjust="spacingAndGlyphs" xml:space="preserve">V</text>
<text x="304.69" y="35.1" font-size="5.6" fill="#000" textLength="12.71" lengthAdjust="spacingAndGlyphs" xml:space="preserve">DSout</text>
<text x="317.39" y="32.1" font-size="9.2" fill="#000" textLength="19.84" lengthAdjust="spacingAndGlyphs" xml:space="preserve"> = 1 V</text>
<text x="197.02" y="140.6" font-size="9.3" fill="#000" textLength="12.05" lengthAdjust="spacingAndGlyphs" font-weight="bold">(D)</text>
<text x="218.52" y="137.7" font-size="9" fill="#000" textLength="51.49" lengthAdjust="spacingAndGlyphs">Self-Cascode</text>
<text x="225.53" y="148.9" font-size="9" fill="#000" textLength="56.59" lengthAdjust="spacingAndGlyphs">p-Type UTBBs</text>
<path d="M196.8,163.1 H211.2" stroke="#000" stroke-width="0.9" stroke-dasharray="2.6,3.3"/>
<text x="214.37" y="165.1" font-size="8.8" fill="#000" textLength="5.08" lengthAdjust="spacingAndGlyphs" xml:space="preserve">V</text>
<text x="219.46" y="168.2" font-size="5.2" fill="#000" textLength="12.27" lengthAdjust="spacingAndGlyphs" xml:space="preserve">BSM1</text>
<text x="231.72" y="165.1" font-size="8.8" fill="#000" textLength="9.54" lengthAdjust="spacingAndGlyphs" xml:space="preserve">=V</text>
<text x="241.26" y="168.2" font-size="5.2" fill="#000" textLength="12.27" lengthAdjust="spacingAndGlyphs" xml:space="preserve">BSM2</text>
<text x="253.53" y="165.1" font-size="8.8" fill="#000" textLength="13.78" lengthAdjust="spacingAndGlyphs" xml:space="preserve">=0V</text>
<text x="217.5" y="179.2" font-size="9" fill="#000" textLength="4.49" lengthAdjust="spacingAndGlyphs" xml:space="preserve">L</text>
<text x="221.99" y="182.8" font-size="5.4" fill="#000" textLength="6.73" lengthAdjust="spacingAndGlyphs" xml:space="preserve">M1</text>
<text x="228.72" y="179.2" font-size="9" fill="#000" textLength="9.21" lengthAdjust="spacingAndGlyphs" xml:space="preserve">=L</text>
<text x="237.93" y="182.8" font-size="5.4" fill="#000" textLength="6.73" lengthAdjust="spacingAndGlyphs" xml:space="preserve">M2</text>
<text x="244.66" y="179.2" font-size="9" fill="#000" textLength="24.92" lengthAdjust="spacingAndGlyphs" xml:space="preserve">=25nm</text>
<text x="217.17" y="194.5" font-size="9.2" fill="#000" textLength="5.07" lengthAdjust="spacingAndGlyphs" xml:space="preserve">V</text>
<text x="222.24" y="197.8" font-size="5.6" fill="#000" textLength="12.85" lengthAdjust="spacingAndGlyphs" xml:space="preserve">DSout</text>
<text x="235.09" y="194.5" font-size="9.2" fill="#000" textLength="22.59" lengthAdjust="spacingAndGlyphs" xml:space="preserve"> = -1 V</text>
<text x="302.67" y="164.8" font-size="8.6" fill="#000" textLength="5.12" lengthAdjust="spacingAndGlyphs" xml:space="preserve">V</text>
<text x="307.79" y="168" font-size="5" fill="#000" textLength="12.15" lengthAdjust="spacingAndGlyphs" xml:space="preserve">BSM1</text>
<text x="319.94" y="164.8" font-size="8.6" fill="#000" textLength="7.25" lengthAdjust="spacingAndGlyphs" xml:space="preserve">;V</text>
<text x="327.19" y="168" font-size="5" fill="#000" textLength="12.15" lengthAdjust="spacingAndGlyphs" xml:space="preserve">BSM2</text>
<path d="M287,173.7 H304.6" stroke="#0000ff" stroke-width="1"/>
<rect x="293.1" y="171.1" width="5.2" height="5.2" fill="#0000ff" stroke="#0000ff" stroke-width="0.6"/>
<text x="306.45" y="176.4" font-size="8.6" fill="#000" textLength="27.02" lengthAdjust="spacingAndGlyphs">-2V ; 0V</text>
<path d="M287,183.5 H304.6" stroke="#0000ff" stroke-width="1"/>
<rect x="293.2" y="181" width="5" height="5" fill="#fff" stroke="#0000ff" stroke-width="0.8"/>
<text x="308.87" y="186.2" font-size="8.6" fill="#000" textLength="24.65" lengthAdjust="spacingAndGlyphs">2V ; 0V</text>
<path d="M287,193.3 H304.6" stroke="#ff0000" stroke-width="1"/>
<circle cx="295.7" cy="193.3" r="2.9" fill="#fff" stroke="#ff0000" stroke-width="0.8"/>
<path d="M295.7,190.4 A2.9,2.9 0 0 1 295.7,196.2 Z" fill="#ff0000"/>
<text x="308.88" y="196" font-size="8.6" fill="#000" textLength="27.09" lengthAdjust="spacingAndGlyphs">2V ; -2V</text>
<path d="M287,203.5 H304.6" stroke="#108a10" stroke-width="1"/>
<polygon points="295.7,199.9 296.59,202.28 299.12,202.39 297.14,203.97 297.82,206.41 295.7,205.01 293.58,206.41 294.26,203.97 292.28,202.39 294.81,202.28" fill="#fff" stroke="#108a10" stroke-width="0.7"/>
<text x="308.95" y="206.2" font-size="8.6" fill="#000" textLength="27.02" lengthAdjust="spacingAndGlyphs">0V ; -2V</text>
<path d="M287,213.2 H304.6" stroke="#108a10" stroke-width="1"/>
<polygon points="295.7,209.5 296.61,211.94 299.22,212.06 297.18,213.68 297.87,216.19 295.7,214.75 293.53,216.19 294.22,213.68 292.18,212.06 294.79,211.94" fill="#108a10" stroke="#108a10" stroke-width="0.5"/>
<text x="308.95" y="215.9" font-size="8.6" fill="#000" textLength="24.57" lengthAdjust="spacingAndGlyphs">0V ; 2V</text>
<text x="15.33" y="24.6" font-size="11" fill="#000" textLength="11.46" lengthAdjust="spacingAndGlyphs">15</text>
<text x="15.35" y="58.15" font-size="11" fill="#000" textLength="11.12" lengthAdjust="spacingAndGlyphs">10</text>
<text x="20.99" y="91.95" font-size="11" fill="#000" textLength="4.98" lengthAdjust="spacingAndGlyphs">5</text>
<text x="20.95" y="125.15" font-size="11" fill="#000" textLength="5.56" lengthAdjust="spacingAndGlyphs">0</text>
<text x="15.5" y="148.95" font-size="11" fill="#000" textLength="10.45" lengthAdjust="spacingAndGlyphs">15</text>
<text x="15.5" y="182.55" font-size="11" fill="#000" textLength="10.45" lengthAdjust="spacingAndGlyphs">10</text>
<text x="20.99" y="216.25" font-size="11" fill="#000" textLength="4.98" lengthAdjust="spacingAndGlyphs">5</text>
<text x="20.15" y="249.25" font-size="11" fill="#000" textLength="5.56" lengthAdjust="spacingAndGlyphs">0</text>
<text x="17.39" y="258.7" font-size="11.6" fill="#000" textLength="12.01" lengthAdjust="spacingAndGlyphs">10</text>
<text x="30.17" y="252.6" font-size="6.6" fill="#000" textLength="4.11" lengthAdjust="spacingAndGlyphs">-7</text>
<text x="54.83" y="258.7" font-size="11.6" fill="#000" textLength="11.34" lengthAdjust="spacingAndGlyphs">10</text>
<text x="66.92" y="252.6" font-size="6.6" fill="#000" textLength="5.11" lengthAdjust="spacingAndGlyphs">-6</text>
<text x="91.51" y="258.7" font-size="11.6" fill="#000" textLength="11.68" lengthAdjust="spacingAndGlyphs">10</text>
<text x="103.61" y="252.6" font-size="6.6" fill="#000" textLength="5.38" lengthAdjust="spacingAndGlyphs">-5</text>
<text x="128.83" y="258.7" font-size="11.6" fill="#000" textLength="11.34" lengthAdjust="spacingAndGlyphs">10</text>
<text x="140.94" y="252.6" font-size="6.6" fill="#000" textLength="4.66" lengthAdjust="spacingAndGlyphs">-4</text>
<text x="165.83" y="258.7" font-size="11.6" fill="#000" textLength="11.34" lengthAdjust="spacingAndGlyphs">10</text>
<text x="177.94" y="252.6" font-size="6.6" fill="#000" textLength="4.78" lengthAdjust="spacingAndGlyphs">-3</text>
<text x="183.69" y="258.2" font-size="11.6" fill="#000" textLength="11.9" lengthAdjust="spacingAndGlyphs">10</text>
<text x="196.36" y="252.1" font-size="6.6" fill="#000" textLength="4.11" lengthAdjust="spacingAndGlyphs">-7</text>
<text x="221.13" y="258.2" font-size="11.6" fill="#000" textLength="11.34" lengthAdjust="spacingAndGlyphs">10</text>
<text x="233.23" y="252.1" font-size="6.6" fill="#000" textLength="4.78" lengthAdjust="spacingAndGlyphs">-6</text>
<text x="257.83" y="258.2" font-size="11.6" fill="#000" textLength="11.34" lengthAdjust="spacingAndGlyphs">10</text>
<text x="269.92" y="252.1" font-size="6.6" fill="#000" textLength="5.05" lengthAdjust="spacingAndGlyphs">-5</text>
<text x="294.83" y="258.2" font-size="11.6" fill="#000" textLength="11.34" lengthAdjust="spacingAndGlyphs">10</text>
<text x="307.24" y="252.1" font-size="6.6" fill="#000" textLength="4.66" lengthAdjust="spacingAndGlyphs">-4</text>
<text x="331.83" y="258.2" font-size="11.6" fill="#000" textLength="11.34" lengthAdjust="spacingAndGlyphs">10</text>
<text x="343.92" y="252.1" font-size="6.6" fill="#000" textLength="5.11" lengthAdjust="spacingAndGlyphs">-3</text>
<text x="75.22" y="266.8" font-size="11.5" fill="#000" textLength="6.15" lengthAdjust="spacingAndGlyphs" xml:space="preserve">|I</text>
<text x="81.37" y="271" font-size="7.4" fill="#000" textLength="15.94" lengthAdjust="spacingAndGlyphs" xml:space="preserve">DSin</text>
<text x="97.31" y="266.8" font-size="11.5" fill="#000" textLength="39.41" lengthAdjust="spacingAndGlyphs" xml:space="preserve">| [A/μm]</text>
<text x="238.4" y="266.8" font-size="11.5" fill="#000" textLength="6.29" lengthAdjust="spacingAndGlyphs" xml:space="preserve">|I</text>
<text x="244.69" y="271" font-size="7.4" fill="#000" textLength="16.32" lengthAdjust="spacingAndGlyphs" xml:space="preserve">DSin</text>
<text x="261.01" y="266.8" font-size="11.5" fill="#000" textLength="40.33" lengthAdjust="spacingAndGlyphs" xml:space="preserve">| [A/μm]</text>
<text transform="rotate(-90)" x="-79.31" y="8.6" font-size="11" textLength="3.27" lengthAdjust="spacingAndGlyphs">I</text>
<text transform="rotate(-90)" x="-76.04" y="12" font-size="7" textLength="20.82" lengthAdjust="spacingAndGlyphs">DSout</text>
<text transform="rotate(-90)" x="-55.22" y="8.6" font-size="11" textLength="6.54" lengthAdjust="spacingAndGlyphs">/I</text>
<text transform="rotate(-90)" x="-48.68" y="12" font-size="7" textLength="16.24" lengthAdjust="spacingAndGlyphs">DSin</text>
<text transform="rotate(-90)" x="-205.91" y="8.6" font-size="11" textLength="3.27" lengthAdjust="spacingAndGlyphs">I</text>
<text transform="rotate(-90)" x="-202.64" y="12" font-size="7" textLength="20.82" lengthAdjust="spacingAndGlyphs">DSout</text>
<text transform="rotate(-90)" x="-181.82" y="8.6" font-size="11" textLength="6.54" lengthAdjust="spacingAndGlyphs">/I</text>
<text transform="rotate(-90)" x="-175.28" y="12" font-size="7" textLength="16.24" lengthAdjust="spacingAndGlyphs">DSin</text>
</g>
</svg>
</body></html>
